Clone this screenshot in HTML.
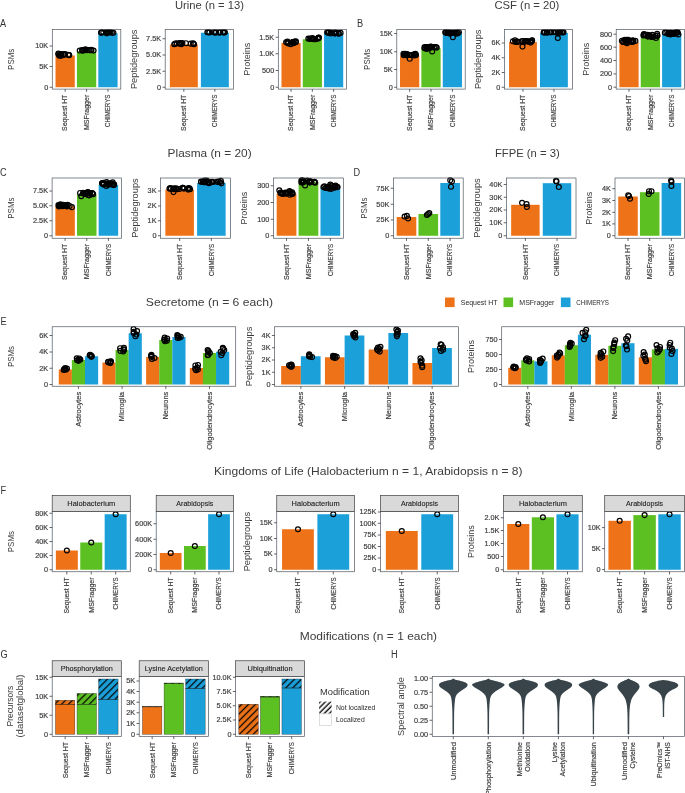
<!DOCTYPE html>
<html><head><meta charset="utf-8"><title>Figure</title>
<style>html,body{margin:0;padding:0;background:#fff}svg{display:block}text{font-family:"Liberation Sans",sans-serif}</style>
</head><body>
<svg width="685" height="793" viewBox="0 0 685 793" font-family="'Liberation Sans', sans-serif">
<rect width="685" height="793" fill="#fff"/>
<text x="209.5" y="8.5" font-size="10.4" fill="#3c3c3c" text-anchor="middle" textLength="69" lengthAdjust="spacingAndGlyphs">Urine (n = 13)</text>
<text x="526.9" y="8.5" font-size="10.4" fill="#3c3c3c" text-anchor="middle" textLength="65" lengthAdjust="spacingAndGlyphs">CSF (n = 20)</text>
<text x="209.6" y="157" font-size="10.4" fill="#3c3c3c" text-anchor="middle" textLength="84" lengthAdjust="spacingAndGlyphs">Plasma (n = 20)</text>
<text x="527.3" y="157" font-size="10.4" fill="#3c3c3c" text-anchor="middle" textLength="64.8" lengthAdjust="spacingAndGlyphs">FFPE (n = 3)</text>
<text x="209.5" y="305.7" font-size="10.4" fill="#3c3c3c" text-anchor="middle" textLength="127.3" lengthAdjust="spacingAndGlyphs">Secretome (n = 6 each)</text>
<text x="368.3" y="475" font-size="10.4" fill="#3c3c3c" text-anchor="middle" textLength="308.5" lengthAdjust="spacingAndGlyphs">Kingdoms of Life (Halobacterium n = 1, Arabidopsis n = 8)</text>
<text x="368.4" y="639.8" font-size="10.4" fill="#3c3c3c" text-anchor="middle" textLength="137.4" lengthAdjust="spacingAndGlyphs">Modifications (n = 1 each)</text>
<text x="0" y="27" font-size="10" fill="#333" text-anchor="start" textLength="6.14" lengthAdjust="spacingAndGlyphs">A</text>
<text x="357" y="27" font-size="10" fill="#333" text-anchor="start" textLength="6.14" lengthAdjust="spacingAndGlyphs">B</text>
<text x="0" y="175.75" font-size="10" fill="#333" text-anchor="start" textLength="6.64" lengthAdjust="spacingAndGlyphs">C</text>
<text x="353.5" y="175.75" font-size="10" fill="#333" text-anchor="start" textLength="6.64" lengthAdjust="spacingAndGlyphs">D</text>
<text x="0.5" y="324.5" font-size="10" fill="#333" text-anchor="start" textLength="6.14" lengthAdjust="spacingAndGlyphs">E</text>
<text x="0.5" y="493.75" font-size="10" fill="#333" text-anchor="start" textLength="5.62" lengthAdjust="spacingAndGlyphs">F</text>
<text x="0.5" y="657.5" font-size="10" fill="#333" text-anchor="start" textLength="7.16" lengthAdjust="spacingAndGlyphs">G</text>
<text x="391" y="657.6" font-size="10" fill="#333" text-anchor="start" textLength="6.64" lengthAdjust="spacingAndGlyphs">H</text>
<rect x="55.51" y="55.5" width="19.27" height="31.75" fill="#ee7318"/>
<rect x="76.92" y="51.25" width="19.27" height="36" fill="#5cbf22"/>
<rect x="98.32" y="33.25" width="19.27" height="54" fill="#1ba0da"/>
<circle cx="59.93" cy="55.19" r="2.45" fill="none" stroke="#000" stroke-width="1.2"/>
<circle cx="61.65" cy="54" r="2.45" fill="none" stroke="#000" stroke-width="1.2"/>
<circle cx="65.08" cy="54.01" r="2.45" fill="none" stroke="#000" stroke-width="1.2"/>
<circle cx="69.26" cy="54.93" r="2.45" fill="none" stroke="#000" stroke-width="1.2"/>
<circle cx="59.35" cy="55.64" r="2.45" fill="none" stroke="#000" stroke-width="1.2"/>
<circle cx="64.19" cy="54.87" r="2.45" fill="none" stroke="#000" stroke-width="1.2"/>
<circle cx="68.88" cy="55.24" r="2.45" fill="none" stroke="#000" stroke-width="1.2"/>
<circle cx="68.3" cy="54.71" r="2.45" fill="none" stroke="#000" stroke-width="1.2"/>
<circle cx="61.28" cy="55.71" r="2.45" fill="none" stroke="#000" stroke-width="1.2"/>
<circle cx="58.45" cy="54.34" r="2.45" fill="none" stroke="#000" stroke-width="1.2"/>
<circle cx="58.38" cy="53.56" r="2.45" fill="none" stroke="#000" stroke-width="1.2"/>
<circle cx="63.45" cy="54.4" r="2.45" fill="none" stroke="#000" stroke-width="1.2"/>
<circle cx="61.1" cy="54.59" r="2.45" fill="none" stroke="#000" stroke-width="1.2"/>
<circle cx="82.58" cy="50.51" r="2.45" fill="none" stroke="#000" stroke-width="1.2"/>
<circle cx="85.66" cy="50.09" r="2.45" fill="none" stroke="#000" stroke-width="1.2"/>
<circle cx="82.71" cy="50.46" r="2.45" fill="none" stroke="#000" stroke-width="1.2"/>
<circle cx="82.54" cy="50.05" r="2.45" fill="none" stroke="#000" stroke-width="1.2"/>
<circle cx="79.73" cy="50.55" r="2.45" fill="none" stroke="#000" stroke-width="1.2"/>
<circle cx="91.36" cy="49.78" r="2.45" fill="none" stroke="#000" stroke-width="1.2"/>
<circle cx="82.07" cy="50.2" r="2.45" fill="none" stroke="#000" stroke-width="1.2"/>
<circle cx="93.57" cy="50.61" r="2.45" fill="none" stroke="#000" stroke-width="1.2"/>
<circle cx="84.16" cy="50.25" r="2.45" fill="none" stroke="#000" stroke-width="1.2"/>
<circle cx="89.71" cy="50.17" r="2.45" fill="none" stroke="#000" stroke-width="1.2"/>
<circle cx="85.44" cy="49.31" r="2.45" fill="none" stroke="#000" stroke-width="1.2"/>
<circle cx="91.26" cy="50.25" r="2.45" fill="none" stroke="#000" stroke-width="1.2"/>
<circle cx="87.8" cy="50.08" r="2.45" fill="none" stroke="#000" stroke-width="1.2"/>
<circle cx="113.41" cy="32.79" r="2.45" fill="none" stroke="#000" stroke-width="1.2"/>
<circle cx="109.23" cy="32.2" r="2.45" fill="none" stroke="#000" stroke-width="1.2"/>
<circle cx="101.32" cy="32.49" r="2.45" fill="none" stroke="#000" stroke-width="1.2"/>
<circle cx="106.73" cy="33.34" r="2.45" fill="none" stroke="#000" stroke-width="1.2"/>
<circle cx="103.29" cy="32.2" r="2.45" fill="none" stroke="#000" stroke-width="1.2"/>
<circle cx="110.44" cy="32.21" r="2.45" fill="none" stroke="#000" stroke-width="1.2"/>
<circle cx="106.17" cy="32.2" r="2.45" fill="none" stroke="#000" stroke-width="1.2"/>
<circle cx="111.93" cy="32.67" r="2.45" fill="none" stroke="#000" stroke-width="1.2"/>
<circle cx="108.25" cy="32.2" r="2.45" fill="none" stroke="#000" stroke-width="1.2"/>
<circle cx="101.25" cy="32.81" r="2.45" fill="none" stroke="#000" stroke-width="1.2"/>
<circle cx="101.45" cy="32.2" r="2.45" fill="none" stroke="#000" stroke-width="1.2"/>
<circle cx="109.28" cy="32.2" r="2.45" fill="none" stroke="#000" stroke-width="1.2"/>
<circle cx="106.44" cy="32.73" r="2.45" fill="none" stroke="#000" stroke-width="1.2"/>
<rect x="52.3" y="29.6" width="68.5" height="59.5" fill="none" stroke="#4f5860" stroke-width="0.7"/>
<line x1="65.14" x2="65.14" y1="89.1" y2="91.8" stroke="#333" stroke-width="0.75"/>
<text x="67.49" y="94.7" font-size="7" fill="#404040" text-anchor="end" textLength="36.2" lengthAdjust="spacingAndGlyphs" transform="rotate(-90 67.49 94.7)" stroke="#404040" stroke-width="0.18">Sequest HT</text>
<line x1="86.55" x2="86.55" y1="89.1" y2="91.8" stroke="#333" stroke-width="0.75"/>
<text x="88.9" y="94.7" font-size="7" fill="#404040" text-anchor="end" textLength="35.3" lengthAdjust="spacingAndGlyphs" transform="rotate(-90 88.9 94.7)" stroke="#404040" stroke-width="0.18">MSFragger</text>
<line x1="107.96" x2="107.96" y1="89.1" y2="91.8" stroke="#333" stroke-width="0.75"/>
<text x="110.31" y="94.7" font-size="7" fill="#404040" text-anchor="end" textLength="32.2" lengthAdjust="spacingAndGlyphs" transform="rotate(-90 110.31 94.7)" stroke="#404040" stroke-width="0.18">CHIMERYS</text>
<line x1="49.6" x2="52.3" y1="87.25" y2="87.25" stroke="#333" stroke-width="0.75"/>
<text x="48.2" y="89.7" font-size="7" fill="#404040" text-anchor="end" textLength="4.05" lengthAdjust="spacingAndGlyphs" stroke="#404040" stroke-width="0.18">0</text>
<line x1="49.6" x2="52.3" y1="66.5" y2="66.5" stroke="#333" stroke-width="0.75"/>
<text x="48.2" y="68.95" font-size="7" fill="#404040" text-anchor="end" textLength="8.9" lengthAdjust="spacingAndGlyphs" stroke="#404040" stroke-width="0.18">5K</text>
<line x1="49.6" x2="52.3" y1="46" y2="46" stroke="#333" stroke-width="0.75"/>
<text x="48.2" y="48.45" font-size="7" fill="#404040" text-anchor="end" textLength="12.95" lengthAdjust="spacingAndGlyphs" stroke="#404040" stroke-width="0.18">10K</text>
<text x="13.55" y="59.35" font-size="9.6" fill="#3a3a3a" text-anchor="middle" textLength="21.1" lengthAdjust="spacingAndGlyphs" transform="rotate(-90 13.55 59.35)">PSMs</text>
<rect x="169.86" y="44.5" width="27.94" height="42.75" fill="#ee7318"/>
<rect x="200.9" y="32.75" width="27.94" height="54.5" fill="#1ba0da"/>
<circle cx="193.26" cy="43.86" r="2.45" fill="none" stroke="#000" stroke-width="1.2"/>
<circle cx="175.24" cy="43.65" r="2.45" fill="none" stroke="#000" stroke-width="1.2"/>
<circle cx="190.76" cy="43.63" r="2.45" fill="none" stroke="#000" stroke-width="1.2"/>
<circle cx="179.86" cy="42.96" r="2.45" fill="none" stroke="#000" stroke-width="1.2"/>
<circle cx="186.02" cy="43.18" r="2.45" fill="none" stroke="#000" stroke-width="1.2"/>
<circle cx="176.76" cy="43.29" r="2.45" fill="none" stroke="#000" stroke-width="1.2"/>
<circle cx="182.39" cy="43.07" r="2.45" fill="none" stroke="#000" stroke-width="1.2"/>
<circle cx="194.06" cy="44.2" r="2.45" fill="none" stroke="#000" stroke-width="1.2"/>
<circle cx="193.12" cy="43.18" r="2.45" fill="none" stroke="#000" stroke-width="1.2"/>
<circle cx="179.04" cy="43.55" r="2.45" fill="none" stroke="#000" stroke-width="1.2"/>
<circle cx="174.23" cy="44.25" r="2.45" fill="none" stroke="#000" stroke-width="1.2"/>
<circle cx="180.07" cy="43.8" r="2.45" fill="none" stroke="#000" stroke-width="1.2"/>
<circle cx="181.35" cy="44.17" r="2.45" fill="none" stroke="#000" stroke-width="1.2"/>
<circle cx="216.12" cy="32.2" r="2.45" fill="none" stroke="#000" stroke-width="1.2"/>
<circle cx="209.42" cy="32.39" r="2.45" fill="none" stroke="#000" stroke-width="1.2"/>
<circle cx="207.36" cy="32.2" r="2.45" fill="none" stroke="#000" stroke-width="1.2"/>
<circle cx="215.08" cy="32.7" r="2.45" fill="none" stroke="#000" stroke-width="1.2"/>
<circle cx="208.29" cy="32.2" r="2.45" fill="none" stroke="#000" stroke-width="1.2"/>
<circle cx="223.01" cy="32.2" r="2.45" fill="none" stroke="#000" stroke-width="1.2"/>
<circle cx="223.28" cy="32.2" r="2.45" fill="none" stroke="#000" stroke-width="1.2"/>
<circle cx="220.31" cy="32.2" r="2.45" fill="none" stroke="#000" stroke-width="1.2"/>
<circle cx="224.82" cy="32.2" r="2.45" fill="none" stroke="#000" stroke-width="1.2"/>
<circle cx="224.42" cy="32.39" r="2.45" fill="none" stroke="#000" stroke-width="1.2"/>
<circle cx="219.32" cy="32.66" r="2.45" fill="none" stroke="#000" stroke-width="1.2"/>
<circle cx="214.07" cy="32.2" r="2.45" fill="none" stroke="#000" stroke-width="1.2"/>
<circle cx="223.66" cy="32.2" r="2.45" fill="none" stroke="#000" stroke-width="1.2"/>
<rect x="165.2" y="29.6" width="68.3" height="59.5" fill="none" stroke="#4f5860" stroke-width="0.7"/>
<line x1="183.83" x2="183.83" y1="89.1" y2="91.8" stroke="#333" stroke-width="0.75"/>
<text x="186.18" y="94.7" font-size="7" fill="#404040" text-anchor="end" textLength="36.2" lengthAdjust="spacingAndGlyphs" transform="rotate(-90 186.18 94.7)" stroke="#404040" stroke-width="0.18">Sequest HT</text>
<line x1="214.87" x2="214.87" y1="89.1" y2="91.8" stroke="#333" stroke-width="0.75"/>
<text x="217.22" y="94.7" font-size="7" fill="#404040" text-anchor="end" textLength="32.2" lengthAdjust="spacingAndGlyphs" transform="rotate(-90 217.22 94.7)" stroke="#404040" stroke-width="0.18">CHIMERYS</text>
<line x1="162.5" x2="165.2" y1="87.25" y2="87.25" stroke="#333" stroke-width="0.75"/>
<text x="161.1" y="89.7" font-size="7" fill="#404040" text-anchor="end" textLength="4.05" lengthAdjust="spacingAndGlyphs" stroke="#404040" stroke-width="0.18">0</text>
<line x1="162.5" x2="165.2" y1="71.25" y2="71.25" stroke="#333" stroke-width="0.75"/>
<text x="161.1" y="73.7" font-size="7" fill="#404040" text-anchor="end" textLength="14.98" lengthAdjust="spacingAndGlyphs" stroke="#404040" stroke-width="0.18">2.5K</text>
<line x1="162.5" x2="165.2" y1="55" y2="55" stroke="#333" stroke-width="0.75"/>
<text x="161.1" y="57.45" font-size="7" fill="#404040" text-anchor="end" textLength="14.98" lengthAdjust="spacingAndGlyphs" stroke="#404040" stroke-width="0.18">5.0K</text>
<line x1="162.5" x2="165.2" y1="38.75" y2="38.75" stroke="#333" stroke-width="0.75"/>
<text x="161.1" y="41.2" font-size="7" fill="#404040" text-anchor="end" textLength="14.98" lengthAdjust="spacingAndGlyphs" stroke="#404040" stroke-width="0.18">7.5K</text>
<text x="136.8" y="59.35" font-size="9.6" fill="#3a3a3a" text-anchor="middle" textLength="59.5" lengthAdjust="spacingAndGlyphs" transform="rotate(-90 136.8 59.35)">Peptidegroups</text>
<rect x="281.49" y="43" width="19.15" height="44.25" fill="#ee7318"/>
<rect x="302.77" y="39.25" width="19.15" height="48" fill="#5cbf22"/>
<rect x="324.05" y="33.25" width="19.15" height="54" fill="#1ba0da"/>
<circle cx="287.35" cy="41.65" r="2.45" fill="none" stroke="#000" stroke-width="1.2"/>
<circle cx="292.54" cy="42.04" r="2.45" fill="none" stroke="#000" stroke-width="1.2"/>
<circle cx="292.85" cy="42.29" r="2.45" fill="none" stroke="#000" stroke-width="1.2"/>
<circle cx="295.85" cy="42.24" r="2.45" fill="none" stroke="#000" stroke-width="1.2"/>
<circle cx="287.66" cy="42.39" r="2.45" fill="none" stroke="#000" stroke-width="1.2"/>
<circle cx="290.65" cy="44.17" r="2.45" fill="none" stroke="#000" stroke-width="1.2"/>
<circle cx="295.84" cy="41.35" r="2.45" fill="none" stroke="#000" stroke-width="1.2"/>
<circle cx="286.12" cy="42.33" r="2.45" fill="none" stroke="#000" stroke-width="1.2"/>
<circle cx="292.98" cy="42.69" r="2.45" fill="none" stroke="#000" stroke-width="1.2"/>
<circle cx="294.49" cy="41.66" r="2.45" fill="none" stroke="#000" stroke-width="1.2"/>
<circle cx="293.5" cy="43.13" r="2.45" fill="none" stroke="#000" stroke-width="1.2"/>
<circle cx="292.36" cy="42.6" r="2.45" fill="none" stroke="#000" stroke-width="1.2"/>
<circle cx="288.25" cy="43.38" r="2.45" fill="none" stroke="#000" stroke-width="1.2"/>
<circle cx="311.96" cy="38.68" r="2.45" fill="none" stroke="#000" stroke-width="1.2"/>
<circle cx="315.45" cy="39.14" r="2.45" fill="none" stroke="#000" stroke-width="1.2"/>
<circle cx="318.32" cy="37.79" r="2.45" fill="none" stroke="#000" stroke-width="1.2"/>
<circle cx="310.86" cy="38.65" r="2.45" fill="none" stroke="#000" stroke-width="1.2"/>
<circle cx="318.52" cy="37.83" r="2.45" fill="none" stroke="#000" stroke-width="1.2"/>
<circle cx="317.72" cy="38.72" r="2.45" fill="none" stroke="#000" stroke-width="1.2"/>
<circle cx="308.34" cy="38.64" r="2.45" fill="none" stroke="#000" stroke-width="1.2"/>
<circle cx="318.95" cy="37.67" r="2.45" fill="none" stroke="#000" stroke-width="1.2"/>
<circle cx="309.53" cy="38.78" r="2.45" fill="none" stroke="#000" stroke-width="1.2"/>
<circle cx="312.45" cy="38.03" r="2.45" fill="none" stroke="#000" stroke-width="1.2"/>
<circle cx="313.56" cy="38.82" r="2.45" fill="none" stroke="#000" stroke-width="1.2"/>
<circle cx="313.54" cy="39.2" r="2.45" fill="none" stroke="#000" stroke-width="1.2"/>
<circle cx="318.43" cy="37.94" r="2.45" fill="none" stroke="#000" stroke-width="1.2"/>
<circle cx="338.68" cy="33.34" r="2.45" fill="none" stroke="#000" stroke-width="1.2"/>
<circle cx="328.86" cy="32.4" r="2.45" fill="none" stroke="#000" stroke-width="1.2"/>
<circle cx="338.74" cy="33.72" r="2.45" fill="none" stroke="#000" stroke-width="1.2"/>
<circle cx="334.61" cy="32.2" r="2.45" fill="none" stroke="#000" stroke-width="1.2"/>
<circle cx="336.66" cy="32.72" r="2.45" fill="none" stroke="#000" stroke-width="1.2"/>
<circle cx="334.67" cy="33.55" r="2.45" fill="none" stroke="#000" stroke-width="1.2"/>
<circle cx="330.58" cy="33.53" r="2.45" fill="none" stroke="#000" stroke-width="1.2"/>
<circle cx="340.57" cy="32.91" r="2.45" fill="none" stroke="#000" stroke-width="1.2"/>
<circle cx="327.8" cy="32.64" r="2.45" fill="none" stroke="#000" stroke-width="1.2"/>
<circle cx="328.68" cy="32.2" r="2.45" fill="none" stroke="#000" stroke-width="1.2"/>
<circle cx="330.71" cy="32.59" r="2.45" fill="none" stroke="#000" stroke-width="1.2"/>
<circle cx="327.17" cy="32.2" r="2.45" fill="none" stroke="#000" stroke-width="1.2"/>
<circle cx="335.25" cy="33.37" r="2.45" fill="none" stroke="#000" stroke-width="1.2"/>
<rect x="278.3" y="29.6" width="68.1" height="59.5" fill="none" stroke="#4f5860" stroke-width="0.7"/>
<line x1="291.07" x2="291.07" y1="89.1" y2="91.8" stroke="#333" stroke-width="0.75"/>
<text x="293.42" y="94.7" font-size="7" fill="#404040" text-anchor="end" textLength="36.2" lengthAdjust="spacingAndGlyphs" transform="rotate(-90 293.42 94.7)" stroke="#404040" stroke-width="0.18">Sequest HT</text>
<line x1="312.35" x2="312.35" y1="89.1" y2="91.8" stroke="#333" stroke-width="0.75"/>
<text x="314.7" y="94.7" font-size="7" fill="#404040" text-anchor="end" textLength="35.3" lengthAdjust="spacingAndGlyphs" transform="rotate(-90 314.7 94.7)" stroke="#404040" stroke-width="0.18">MSFragger</text>
<line x1="333.63" x2="333.63" y1="89.1" y2="91.8" stroke="#333" stroke-width="0.75"/>
<text x="335.98" y="94.7" font-size="7" fill="#404040" text-anchor="end" textLength="32.2" lengthAdjust="spacingAndGlyphs" transform="rotate(-90 335.98 94.7)" stroke="#404040" stroke-width="0.18">CHIMERYS</text>
<line x1="275.6" x2="278.3" y1="87.25" y2="87.25" stroke="#333" stroke-width="0.75"/>
<text x="274.2" y="89.7" font-size="7" fill="#404040" text-anchor="end" textLength="4.05" lengthAdjust="spacingAndGlyphs" stroke="#404040" stroke-width="0.18">0</text>
<line x1="275.6" x2="278.3" y1="70.5" y2="70.5" stroke="#333" stroke-width="0.75"/>
<text x="274.2" y="72.95" font-size="7" fill="#404040" text-anchor="end" textLength="12.15" lengthAdjust="spacingAndGlyphs" stroke="#404040" stroke-width="0.18">500</text>
<line x1="275.6" x2="278.3" y1="53.75" y2="53.75" stroke="#333" stroke-width="0.75"/>
<text x="274.2" y="56.2" font-size="7" fill="#404040" text-anchor="end" textLength="14.98" lengthAdjust="spacingAndGlyphs" stroke="#404040" stroke-width="0.18">1.0K</text>
<line x1="275.6" x2="278.3" y1="37.25" y2="37.25" stroke="#333" stroke-width="0.75"/>
<text x="274.2" y="39.7" font-size="7" fill="#404040" text-anchor="end" textLength="14.98" lengthAdjust="spacingAndGlyphs" stroke="#404040" stroke-width="0.18">1.5K</text>
<text x="250.05" y="59.35" font-size="9.6" fill="#3a3a3a" text-anchor="middle" textLength="33" lengthAdjust="spacingAndGlyphs" transform="rotate(-90 250.05 59.35)">Proteins</text>
<rect x="400.01" y="55.5" width="19.24" height="31.75" fill="#ee7318"/>
<rect x="421.38" y="48.25" width="19.24" height="39" fill="#5cbf22"/>
<rect x="442.76" y="33.25" width="19.24" height="54" fill="#1ba0da"/>
<circle cx="405.87" cy="55.1" r="2.45" fill="none" stroke="#000" stroke-width="1.2"/>
<circle cx="404.71" cy="55" r="2.45" fill="none" stroke="#000" stroke-width="1.2"/>
<circle cx="403.45" cy="53.79" r="2.45" fill="none" stroke="#000" stroke-width="1.2"/>
<circle cx="413.9" cy="55.35" r="2.45" fill="none" stroke="#000" stroke-width="1.2"/>
<circle cx="413.4" cy="54.81" r="2.45" fill="none" stroke="#000" stroke-width="1.2"/>
<circle cx="406.45" cy="55.31" r="2.45" fill="none" stroke="#000" stroke-width="1.2"/>
<circle cx="404.97" cy="54.97" r="2.45" fill="none" stroke="#000" stroke-width="1.2"/>
<circle cx="415.71" cy="54.91" r="2.45" fill="none" stroke="#000" stroke-width="1.2"/>
<circle cx="414.31" cy="55.01" r="2.45" fill="none" stroke="#000" stroke-width="1.2"/>
<circle cx="405.26" cy="53.86" r="2.45" fill="none" stroke="#000" stroke-width="1.2"/>
<circle cx="406.92" cy="54.13" r="2.45" fill="none" stroke="#000" stroke-width="1.2"/>
<circle cx="414.67" cy="54.12" r="2.45" fill="none" stroke="#000" stroke-width="1.2"/>
<circle cx="415.04" cy="55.28" r="2.45" fill="none" stroke="#000" stroke-width="1.2"/>
<circle cx="412.07" cy="55.05" r="2.45" fill="none" stroke="#000" stroke-width="1.2"/>
<circle cx="409.71" cy="54.95" r="2.45" fill="none" stroke="#000" stroke-width="1.2"/>
<circle cx="403.78" cy="55.21" r="2.45" fill="none" stroke="#000" stroke-width="1.2"/>
<circle cx="415.81" cy="55.12" r="2.45" fill="none" stroke="#000" stroke-width="1.2"/>
<circle cx="406.78" cy="54.23" r="2.45" fill="none" stroke="#000" stroke-width="1.2"/>
<circle cx="415.45" cy="53.77" r="2.45" fill="none" stroke="#000" stroke-width="1.2"/>
<circle cx="409.73" cy="58.8" r="2.45" fill="none" stroke="#000" stroke-width="1.2"/>
<circle cx="435.95" cy="47" r="2.45" fill="none" stroke="#000" stroke-width="1.2"/>
<circle cx="431.12" cy="46.87" r="2.45" fill="none" stroke="#000" stroke-width="1.2"/>
<circle cx="430.02" cy="47.8" r="2.45" fill="none" stroke="#000" stroke-width="1.2"/>
<circle cx="426.18" cy="47.14" r="2.45" fill="none" stroke="#000" stroke-width="1.2"/>
<circle cx="424.5" cy="48.31" r="2.45" fill="none" stroke="#000" stroke-width="1.2"/>
<circle cx="424.54" cy="47.17" r="2.45" fill="none" stroke="#000" stroke-width="1.2"/>
<circle cx="431.49" cy="47.16" r="2.45" fill="none" stroke="#000" stroke-width="1.2"/>
<circle cx="430.59" cy="46.5" r="2.45" fill="none" stroke="#000" stroke-width="1.2"/>
<circle cx="426.67" cy="48.88" r="2.45" fill="none" stroke="#000" stroke-width="1.2"/>
<circle cx="429.76" cy="47.66" r="2.45" fill="none" stroke="#000" stroke-width="1.2"/>
<circle cx="427.82" cy="48.13" r="2.45" fill="none" stroke="#000" stroke-width="1.2"/>
<circle cx="428.95" cy="47.44" r="2.45" fill="none" stroke="#000" stroke-width="1.2"/>
<circle cx="431.83" cy="47.01" r="2.45" fill="none" stroke="#000" stroke-width="1.2"/>
<circle cx="436.76" cy="47.59" r="2.45" fill="none" stroke="#000" stroke-width="1.2"/>
<circle cx="427.14" cy="47.56" r="2.45" fill="none" stroke="#000" stroke-width="1.2"/>
<circle cx="434.77" cy="47.17" r="2.45" fill="none" stroke="#000" stroke-width="1.2"/>
<circle cx="428.6" cy="47.21" r="2.45" fill="none" stroke="#000" stroke-width="1.2"/>
<circle cx="426.41" cy="47.31" r="2.45" fill="none" stroke="#000" stroke-width="1.2"/>
<circle cx="433.81" cy="47.49" r="2.45" fill="none" stroke="#000" stroke-width="1.2"/>
<circle cx="432.2" cy="51.45" r="2.45" fill="none" stroke="#000" stroke-width="1.2"/>
<circle cx="458.01" cy="33.23" r="2.45" fill="none" stroke="#000" stroke-width="1.2"/>
<circle cx="458.92" cy="32.22" r="2.45" fill="none" stroke="#000" stroke-width="1.2"/>
<circle cx="445.52" cy="32.2" r="2.45" fill="none" stroke="#000" stroke-width="1.2"/>
<circle cx="456.29" cy="33.71" r="2.45" fill="none" stroke="#000" stroke-width="1.2"/>
<circle cx="451.1" cy="33.1" r="2.45" fill="none" stroke="#000" stroke-width="1.2"/>
<circle cx="456.9" cy="32.21" r="2.45" fill="none" stroke="#000" stroke-width="1.2"/>
<circle cx="449.43" cy="32.64" r="2.45" fill="none" stroke="#000" stroke-width="1.2"/>
<circle cx="447.2" cy="32.96" r="2.45" fill="none" stroke="#000" stroke-width="1.2"/>
<circle cx="450.69" cy="32.89" r="2.45" fill="none" stroke="#000" stroke-width="1.2"/>
<circle cx="445.39" cy="32.34" r="2.45" fill="none" stroke="#000" stroke-width="1.2"/>
<circle cx="445.89" cy="32.87" r="2.45" fill="none" stroke="#000" stroke-width="1.2"/>
<circle cx="450.42" cy="33.22" r="2.45" fill="none" stroke="#000" stroke-width="1.2"/>
<circle cx="449.39" cy="33.61" r="2.45" fill="none" stroke="#000" stroke-width="1.2"/>
<circle cx="451.29" cy="33.26" r="2.45" fill="none" stroke="#000" stroke-width="1.2"/>
<circle cx="448.22" cy="32.61" r="2.45" fill="none" stroke="#000" stroke-width="1.2"/>
<circle cx="447.66" cy="32.51" r="2.45" fill="none" stroke="#000" stroke-width="1.2"/>
<circle cx="454.89" cy="32.54" r="2.45" fill="none" stroke="#000" stroke-width="1.2"/>
<circle cx="452.24" cy="32.57" r="2.45" fill="none" stroke="#000" stroke-width="1.2"/>
<circle cx="448.8" cy="32.71" r="2.45" fill="none" stroke="#000" stroke-width="1.2"/>
<circle cx="452.88" cy="37.15" r="2.45" fill="none" stroke="#000" stroke-width="1.2"/>
<rect x="396.8" y="29.6" width="68.4" height="59.5" fill="none" stroke="#4f5860" stroke-width="0.7"/>
<line x1="409.62" x2="409.62" y1="89.1" y2="91.8" stroke="#333" stroke-width="0.75"/>
<text x="411.98" y="94.7" font-size="7" fill="#404040" text-anchor="end" textLength="36.2" lengthAdjust="spacingAndGlyphs" transform="rotate(-90 411.98 94.7)" stroke="#404040" stroke-width="0.18">Sequest HT</text>
<line x1="431" x2="431" y1="89.1" y2="91.8" stroke="#333" stroke-width="0.75"/>
<text x="433.35" y="94.7" font-size="7" fill="#404040" text-anchor="end" textLength="35.3" lengthAdjust="spacingAndGlyphs" transform="rotate(-90 433.35 94.7)" stroke="#404040" stroke-width="0.18">MSFragger</text>
<line x1="452.38" x2="452.38" y1="89.1" y2="91.8" stroke="#333" stroke-width="0.75"/>
<text x="454.73" y="94.7" font-size="7" fill="#404040" text-anchor="end" textLength="32.2" lengthAdjust="spacingAndGlyphs" transform="rotate(-90 454.73 94.7)" stroke="#404040" stroke-width="0.18">CHIMERYS</text>
<line x1="394.1" x2="396.8" y1="87.25" y2="87.25" stroke="#333" stroke-width="0.75"/>
<text x="392.7" y="89.7" font-size="7" fill="#404040" text-anchor="end" textLength="4.05" lengthAdjust="spacingAndGlyphs" stroke="#404040" stroke-width="0.18">0</text>
<line x1="394.1" x2="396.8" y1="69.5" y2="69.5" stroke="#333" stroke-width="0.75"/>
<text x="392.7" y="71.95" font-size="7" fill="#404040" text-anchor="end" textLength="8.9" lengthAdjust="spacingAndGlyphs" stroke="#404040" stroke-width="0.18">5K</text>
<line x1="394.1" x2="396.8" y1="51.75" y2="51.75" stroke="#333" stroke-width="0.75"/>
<text x="392.7" y="54.2" font-size="7" fill="#404040" text-anchor="end" textLength="12.95" lengthAdjust="spacingAndGlyphs" stroke="#404040" stroke-width="0.18">10K</text>
<line x1="394.1" x2="396.8" y1="33.5" y2="33.5" stroke="#333" stroke-width="0.75"/>
<text x="392.7" y="35.95" font-size="7" fill="#404040" text-anchor="end" textLength="12.95" lengthAdjust="spacingAndGlyphs" stroke="#404040" stroke-width="0.18">15K</text>
<text x="370.05" y="59.35" font-size="9.6" fill="#3a3a3a" text-anchor="middle" textLength="21.1" lengthAdjust="spacingAndGlyphs" transform="rotate(-90 370.05 59.35)">PSMs</text>
<rect x="509.04" y="42" width="27.86" height="45.25" fill="#ee7318"/>
<rect x="540" y="32.9" width="27.86" height="54.35" fill="#1ba0da"/>
<circle cx="525.51" cy="41.15" r="2.45" fill="none" stroke="#000" stroke-width="1.2"/>
<circle cx="532.09" cy="40.31" r="2.45" fill="none" stroke="#000" stroke-width="1.2"/>
<circle cx="527.92" cy="41.31" r="2.45" fill="none" stroke="#000" stroke-width="1.2"/>
<circle cx="522.26" cy="41.14" r="2.45" fill="none" stroke="#000" stroke-width="1.2"/>
<circle cx="532.11" cy="40.56" r="2.45" fill="none" stroke="#000" stroke-width="1.2"/>
<circle cx="515" cy="40.33" r="2.45" fill="none" stroke="#000" stroke-width="1.2"/>
<circle cx="522.34" cy="41.21" r="2.45" fill="none" stroke="#000" stroke-width="1.2"/>
<circle cx="524.5" cy="41.83" r="2.45" fill="none" stroke="#000" stroke-width="1.2"/>
<circle cx="512.94" cy="41.28" r="2.45" fill="none" stroke="#000" stroke-width="1.2"/>
<circle cx="531.56" cy="41.6" r="2.45" fill="none" stroke="#000" stroke-width="1.2"/>
<circle cx="528.45" cy="41.68" r="2.45" fill="none" stroke="#000" stroke-width="1.2"/>
<circle cx="515.53" cy="41.95" r="2.45" fill="none" stroke="#000" stroke-width="1.2"/>
<circle cx="525.39" cy="41.22" r="2.45" fill="none" stroke="#000" stroke-width="1.2"/>
<circle cx="530.63" cy="41.22" r="2.45" fill="none" stroke="#000" stroke-width="1.2"/>
<circle cx="516.98" cy="41.51" r="2.45" fill="none" stroke="#000" stroke-width="1.2"/>
<circle cx="530.65" cy="42.59" r="2.45" fill="none" stroke="#000" stroke-width="1.2"/>
<circle cx="518.63" cy="41.8" r="2.45" fill="none" stroke="#000" stroke-width="1.2"/>
<circle cx="526.64" cy="41.05" r="2.45" fill="none" stroke="#000" stroke-width="1.2"/>
<circle cx="516.89" cy="41.91" r="2.45" fill="none" stroke="#000" stroke-width="1.2"/>
<circle cx="522.47" cy="46.6" r="2.45" fill="none" stroke="#000" stroke-width="1.2"/>
<circle cx="563.55" cy="32.2" r="2.45" fill="none" stroke="#000" stroke-width="1.2"/>
<circle cx="562.04" cy="32.2" r="2.45" fill="none" stroke="#000" stroke-width="1.2"/>
<circle cx="547.04" cy="32.55" r="2.45" fill="none" stroke="#000" stroke-width="1.2"/>
<circle cx="546.62" cy="32.49" r="2.45" fill="none" stroke="#000" stroke-width="1.2"/>
<circle cx="556.05" cy="32.27" r="2.45" fill="none" stroke="#000" stroke-width="1.2"/>
<circle cx="543.69" cy="32.2" r="2.45" fill="none" stroke="#000" stroke-width="1.2"/>
<circle cx="550.01" cy="32.2" r="2.45" fill="none" stroke="#000" stroke-width="1.2"/>
<circle cx="560.49" cy="32.2" r="2.45" fill="none" stroke="#000" stroke-width="1.2"/>
<circle cx="553.54" cy="32.2" r="2.45" fill="none" stroke="#000" stroke-width="1.2"/>
<circle cx="558.15" cy="33.37" r="2.45" fill="none" stroke="#000" stroke-width="1.2"/>
<circle cx="544.09" cy="32.58" r="2.45" fill="none" stroke="#000" stroke-width="1.2"/>
<circle cx="559.08" cy="32.2" r="2.45" fill="none" stroke="#000" stroke-width="1.2"/>
<circle cx="559.86" cy="32.2" r="2.45" fill="none" stroke="#000" stroke-width="1.2"/>
<circle cx="551.17" cy="32.2" r="2.45" fill="none" stroke="#000" stroke-width="1.2"/>
<circle cx="544.58" cy="32.2" r="2.45" fill="none" stroke="#000" stroke-width="1.2"/>
<circle cx="547.35" cy="32.42" r="2.45" fill="none" stroke="#000" stroke-width="1.2"/>
<circle cx="559.2" cy="32.2" r="2.45" fill="none" stroke="#000" stroke-width="1.2"/>
<circle cx="562.78" cy="32.53" r="2.45" fill="none" stroke="#000" stroke-width="1.2"/>
<circle cx="550.93" cy="32.2" r="2.45" fill="none" stroke="#000" stroke-width="1.2"/>
<circle cx="557.83" cy="38" r="2.45" fill="none" stroke="#000" stroke-width="1.2"/>
<rect x="504.4" y="29.6" width="68.1" height="59.5" fill="none" stroke="#4f5860" stroke-width="0.7"/>
<line x1="522.97" x2="522.97" y1="89.1" y2="91.8" stroke="#333" stroke-width="0.75"/>
<text x="525.32" y="94.7" font-size="7" fill="#404040" text-anchor="end" textLength="36.2" lengthAdjust="spacingAndGlyphs" transform="rotate(-90 525.32 94.7)" stroke="#404040" stroke-width="0.18">Sequest HT</text>
<line x1="553.93" x2="553.93" y1="89.1" y2="91.8" stroke="#333" stroke-width="0.75"/>
<text x="556.28" y="94.7" font-size="7" fill="#404040" text-anchor="end" textLength="32.2" lengthAdjust="spacingAndGlyphs" transform="rotate(-90 556.28 94.7)" stroke="#404040" stroke-width="0.18">CHIMERYS</text>
<line x1="501.7" x2="504.4" y1="87.25" y2="87.25" stroke="#333" stroke-width="0.75"/>
<text x="500.3" y="89.7" font-size="7" fill="#404040" text-anchor="end" textLength="4.05" lengthAdjust="spacingAndGlyphs" stroke="#404040" stroke-width="0.18">0</text>
<line x1="501.7" x2="504.4" y1="72.5" y2="72.5" stroke="#333" stroke-width="0.75"/>
<text x="500.3" y="74.95" font-size="7" fill="#404040" text-anchor="end" textLength="8.9" lengthAdjust="spacingAndGlyphs" stroke="#404040" stroke-width="0.18">2K</text>
<line x1="501.7" x2="504.4" y1="57.75" y2="57.75" stroke="#333" stroke-width="0.75"/>
<text x="500.3" y="60.2" font-size="7" fill="#404040" text-anchor="end" textLength="8.9" lengthAdjust="spacingAndGlyphs" stroke="#404040" stroke-width="0.18">4K</text>
<line x1="501.7" x2="504.4" y1="43" y2="43" stroke="#333" stroke-width="0.75"/>
<text x="500.3" y="45.45" font-size="7" fill="#404040" text-anchor="end" textLength="8.9" lengthAdjust="spacingAndGlyphs" stroke="#404040" stroke-width="0.18">6K</text>
<text x="481.3" y="59.35" font-size="9.6" fill="#3a3a3a" text-anchor="middle" textLength="59.5" lengthAdjust="spacingAndGlyphs" transform="rotate(-90 481.3 59.35)">Peptidegroups</text>
<rect x="619.4" y="42.2" width="19.21" height="45.05" fill="#ee7318"/>
<rect x="640.75" y="36.2" width="19.21" height="51.05" fill="#5cbf22"/>
<rect x="662.09" y="34" width="19.21" height="53.25" fill="#1ba0da"/>
<circle cx="633.18" cy="41.85" r="2.45" fill="none" stroke="#000" stroke-width="1.2"/>
<circle cx="625.62" cy="40.47" r="2.45" fill="none" stroke="#000" stroke-width="1.2"/>
<circle cx="621.91" cy="40.87" r="2.45" fill="none" stroke="#000" stroke-width="1.2"/>
<circle cx="632.7" cy="40.53" r="2.45" fill="none" stroke="#000" stroke-width="1.2"/>
<circle cx="627.2" cy="41.49" r="2.45" fill="none" stroke="#000" stroke-width="1.2"/>
<circle cx="633.3" cy="40.69" r="2.45" fill="none" stroke="#000" stroke-width="1.2"/>
<circle cx="632.27" cy="40.44" r="2.45" fill="none" stroke="#000" stroke-width="1.2"/>
<circle cx="631.59" cy="41.98" r="2.45" fill="none" stroke="#000" stroke-width="1.2"/>
<circle cx="624.64" cy="39.86" r="2.45" fill="none" stroke="#000" stroke-width="1.2"/>
<circle cx="625.67" cy="40.86" r="2.45" fill="none" stroke="#000" stroke-width="1.2"/>
<circle cx="633.32" cy="40.72" r="2.45" fill="none" stroke="#000" stroke-width="1.2"/>
<circle cx="626.67" cy="39.8" r="2.45" fill="none" stroke="#000" stroke-width="1.2"/>
<circle cx="623.22" cy="41.91" r="2.45" fill="none" stroke="#000" stroke-width="1.2"/>
<circle cx="628.23" cy="39.85" r="2.45" fill="none" stroke="#000" stroke-width="1.2"/>
<circle cx="623.23" cy="41.82" r="2.45" fill="none" stroke="#000" stroke-width="1.2"/>
<circle cx="626.04" cy="42.61" r="2.45" fill="none" stroke="#000" stroke-width="1.2"/>
<circle cx="635.42" cy="40.89" r="2.45" fill="none" stroke="#000" stroke-width="1.2"/>
<circle cx="631.22" cy="41.08" r="2.45" fill="none" stroke="#000" stroke-width="1.2"/>
<circle cx="627.02" cy="43.2" r="2.45" fill="none" stroke="#000" stroke-width="1.2"/>
<circle cx="629.21" cy="40.59" r="2.45" fill="none" stroke="#000" stroke-width="1.2"/>
<circle cx="652.41" cy="34.88" r="2.45" fill="none" stroke="#000" stroke-width="1.2"/>
<circle cx="657.12" cy="33.86" r="2.45" fill="none" stroke="#000" stroke-width="1.2"/>
<circle cx="643.65" cy="34.61" r="2.45" fill="none" stroke="#000" stroke-width="1.2"/>
<circle cx="647.57" cy="36.33" r="2.45" fill="none" stroke="#000" stroke-width="1.2"/>
<circle cx="651.62" cy="36.97" r="2.45" fill="none" stroke="#000" stroke-width="1.2"/>
<circle cx="650.71" cy="36.39" r="2.45" fill="none" stroke="#000" stroke-width="1.2"/>
<circle cx="644.9" cy="34.99" r="2.45" fill="none" stroke="#000" stroke-width="1.2"/>
<circle cx="646.03" cy="34.74" r="2.45" fill="none" stroke="#000" stroke-width="1.2"/>
<circle cx="650.12" cy="35.8" r="2.45" fill="none" stroke="#000" stroke-width="1.2"/>
<circle cx="655.55" cy="35.87" r="2.45" fill="none" stroke="#000" stroke-width="1.2"/>
<circle cx="653.17" cy="36.96" r="2.45" fill="none" stroke="#000" stroke-width="1.2"/>
<circle cx="643.49" cy="35.52" r="2.45" fill="none" stroke="#000" stroke-width="1.2"/>
<circle cx="647.97" cy="36.43" r="2.45" fill="none" stroke="#000" stroke-width="1.2"/>
<circle cx="647.59" cy="34.69" r="2.45" fill="none" stroke="#000" stroke-width="1.2"/>
<circle cx="648.61" cy="35.04" r="2.45" fill="none" stroke="#000" stroke-width="1.2"/>
<circle cx="657.46" cy="35.7" r="2.45" fill="none" stroke="#000" stroke-width="1.2"/>
<circle cx="644.01" cy="34.08" r="2.45" fill="none" stroke="#000" stroke-width="1.2"/>
<circle cx="648.9" cy="36.09" r="2.45" fill="none" stroke="#000" stroke-width="1.2"/>
<circle cx="657.19" cy="35.47" r="2.45" fill="none" stroke="#000" stroke-width="1.2"/>
<circle cx="655.93" cy="37.9" r="2.45" fill="none" stroke="#000" stroke-width="1.2"/>
<circle cx="674.11" cy="33.95" r="2.45" fill="none" stroke="#000" stroke-width="1.2"/>
<circle cx="676.4" cy="32.57" r="2.45" fill="none" stroke="#000" stroke-width="1.2"/>
<circle cx="675.9" cy="32.2" r="2.45" fill="none" stroke="#000" stroke-width="1.2"/>
<circle cx="674.62" cy="33.09" r="2.45" fill="none" stroke="#000" stroke-width="1.2"/>
<circle cx="670.4" cy="34.48" r="2.45" fill="none" stroke="#000" stroke-width="1.2"/>
<circle cx="668.36" cy="33.97" r="2.45" fill="none" stroke="#000" stroke-width="1.2"/>
<circle cx="671.52" cy="33.32" r="2.45" fill="none" stroke="#000" stroke-width="1.2"/>
<circle cx="664.9" cy="32.66" r="2.45" fill="none" stroke="#000" stroke-width="1.2"/>
<circle cx="666.34" cy="32.48" r="2.45" fill="none" stroke="#000" stroke-width="1.2"/>
<circle cx="668.23" cy="32.75" r="2.45" fill="none" stroke="#000" stroke-width="1.2"/>
<circle cx="671" cy="33.82" r="2.45" fill="none" stroke="#000" stroke-width="1.2"/>
<circle cx="670.42" cy="32.9" r="2.45" fill="none" stroke="#000" stroke-width="1.2"/>
<circle cx="677.09" cy="32.66" r="2.45" fill="none" stroke="#000" stroke-width="1.2"/>
<circle cx="671.33" cy="32.74" r="2.45" fill="none" stroke="#000" stroke-width="1.2"/>
<circle cx="671.39" cy="33.75" r="2.45" fill="none" stroke="#000" stroke-width="1.2"/>
<circle cx="668.93" cy="33.88" r="2.45" fill="none" stroke="#000" stroke-width="1.2"/>
<circle cx="676.03" cy="32.61" r="2.45" fill="none" stroke="#000" stroke-width="1.2"/>
<circle cx="678.39" cy="34.38" r="2.45" fill="none" stroke="#000" stroke-width="1.2"/>
<circle cx="677.71" cy="32.33" r="2.45" fill="none" stroke="#000" stroke-width="1.2"/>
<circle cx="669.14" cy="34.06" r="2.45" fill="none" stroke="#000" stroke-width="1.2"/>
<rect x="616.2" y="29.6" width="68.3" height="59.5" fill="none" stroke="#4f5860" stroke-width="0.7"/>
<line x1="629.01" x2="629.01" y1="89.1" y2="91.8" stroke="#333" stroke-width="0.75"/>
<text x="631.36" y="94.7" font-size="7" fill="#404040" text-anchor="end" textLength="36.2" lengthAdjust="spacingAndGlyphs" transform="rotate(-90 631.36 94.7)" stroke="#404040" stroke-width="0.18">Sequest HT</text>
<line x1="650.35" x2="650.35" y1="89.1" y2="91.8" stroke="#333" stroke-width="0.75"/>
<text x="652.7" y="94.7" font-size="7" fill="#404040" text-anchor="end" textLength="35.3" lengthAdjust="spacingAndGlyphs" transform="rotate(-90 652.7 94.7)" stroke="#404040" stroke-width="0.18">MSFragger</text>
<line x1="671.69" x2="671.69" y1="89.1" y2="91.8" stroke="#333" stroke-width="0.75"/>
<text x="674.04" y="94.7" font-size="7" fill="#404040" text-anchor="end" textLength="32.2" lengthAdjust="spacingAndGlyphs" transform="rotate(-90 674.04 94.7)" stroke="#404040" stroke-width="0.18">CHIMERYS</text>
<line x1="613.5" x2="616.2" y1="87.2" y2="87.2" stroke="#333" stroke-width="0.75"/>
<text x="612.1" y="89.65" font-size="7" fill="#404040" text-anchor="end" textLength="4.05" lengthAdjust="spacingAndGlyphs" stroke="#404040" stroke-width="0.18">0</text>
<line x1="613.5" x2="616.2" y1="73.9" y2="73.9" stroke="#333" stroke-width="0.75"/>
<text x="612.1" y="76.35" font-size="7" fill="#404040" text-anchor="end" textLength="12.15" lengthAdjust="spacingAndGlyphs" stroke="#404040" stroke-width="0.18">200</text>
<line x1="613.5" x2="616.2" y1="60.5" y2="60.5" stroke="#333" stroke-width="0.75"/>
<text x="612.1" y="62.95" font-size="7" fill="#404040" text-anchor="end" textLength="12.15" lengthAdjust="spacingAndGlyphs" stroke="#404040" stroke-width="0.18">400</text>
<line x1="613.5" x2="616.2" y1="47.2" y2="47.2" stroke="#333" stroke-width="0.75"/>
<text x="612.1" y="49.65" font-size="7" fill="#404040" text-anchor="end" textLength="12.15" lengthAdjust="spacingAndGlyphs" stroke="#404040" stroke-width="0.18">600</text>
<line x1="613.5" x2="616.2" y1="34.2" y2="34.2" stroke="#333" stroke-width="0.75"/>
<text x="612.1" y="36.65" font-size="7" fill="#404040" text-anchor="end" textLength="12.15" lengthAdjust="spacingAndGlyphs" stroke="#404040" stroke-width="0.18">800</text>
<text x="589.35" y="59.35" font-size="9.6" fill="#3a3a3a" text-anchor="middle" textLength="33" lengthAdjust="spacingAndGlyphs" transform="rotate(-90 589.35 59.35)">Proteins</text>
<rect x="55.35" y="206.25" width="19.49" height="29.5" fill="#ee7318"/>
<rect x="77" y="194.5" width="19.49" height="41.25" fill="#5cbf22"/>
<rect x="98.66" y="185" width="19.49" height="50.75" fill="#1ba0da"/>
<circle cx="62.55" cy="206.21" r="2.45" fill="none" stroke="#000" stroke-width="1.2"/>
<circle cx="58.93" cy="206.51" r="2.45" fill="none" stroke="#000" stroke-width="1.2"/>
<circle cx="65.61" cy="205.24" r="2.45" fill="none" stroke="#000" stroke-width="1.2"/>
<circle cx="65.2" cy="205.68" r="2.45" fill="none" stroke="#000" stroke-width="1.2"/>
<circle cx="58.42" cy="205.14" r="2.45" fill="none" stroke="#000" stroke-width="1.2"/>
<circle cx="59.19" cy="205.59" r="2.45" fill="none" stroke="#000" stroke-width="1.2"/>
<circle cx="64.01" cy="205.66" r="2.45" fill="none" stroke="#000" stroke-width="1.2"/>
<circle cx="61.1" cy="205.04" r="2.45" fill="none" stroke="#000" stroke-width="1.2"/>
<circle cx="66.93" cy="206.57" r="2.45" fill="none" stroke="#000" stroke-width="1.2"/>
<circle cx="63.6" cy="205.07" r="2.45" fill="none" stroke="#000" stroke-width="1.2"/>
<circle cx="71.96" cy="207.15" r="2.45" fill="none" stroke="#000" stroke-width="1.2"/>
<circle cx="62.06" cy="205.96" r="2.45" fill="none" stroke="#000" stroke-width="1.2"/>
<circle cx="59.96" cy="206.02" r="2.45" fill="none" stroke="#000" stroke-width="1.2"/>
<circle cx="69.65" cy="205.97" r="2.45" fill="none" stroke="#000" stroke-width="1.2"/>
<circle cx="60.49" cy="204.33" r="2.45" fill="none" stroke="#000" stroke-width="1.2"/>
<circle cx="63.25" cy="204.82" r="2.45" fill="none" stroke="#000" stroke-width="1.2"/>
<circle cx="65.78" cy="205.74" r="2.45" fill="none" stroke="#000" stroke-width="1.2"/>
<circle cx="60.85" cy="205.57" r="2.45" fill="none" stroke="#000" stroke-width="1.2"/>
<circle cx="67.7" cy="204.75" r="2.45" fill="none" stroke="#000" stroke-width="1.2"/>
<circle cx="66.33" cy="205.79" r="2.45" fill="none" stroke="#000" stroke-width="1.2"/>
<circle cx="86.07" cy="193.21" r="2.45" fill="none" stroke="#000" stroke-width="1.2"/>
<circle cx="89.62" cy="195.22" r="2.45" fill="none" stroke="#000" stroke-width="1.2"/>
<circle cx="83.06" cy="192.72" r="2.45" fill="none" stroke="#000" stroke-width="1.2"/>
<circle cx="92.16" cy="193.2" r="2.45" fill="none" stroke="#000" stroke-width="1.2"/>
<circle cx="90.06" cy="193.1" r="2.45" fill="none" stroke="#000" stroke-width="1.2"/>
<circle cx="81.24" cy="196.15" r="2.45" fill="none" stroke="#000" stroke-width="1.2"/>
<circle cx="85.57" cy="193.72" r="2.45" fill="none" stroke="#000" stroke-width="1.2"/>
<circle cx="86.59" cy="193.18" r="2.45" fill="none" stroke="#000" stroke-width="1.2"/>
<circle cx="80.1" cy="192.95" r="2.45" fill="none" stroke="#000" stroke-width="1.2"/>
<circle cx="87.8" cy="192.37" r="2.45" fill="none" stroke="#000" stroke-width="1.2"/>
<circle cx="92.17" cy="193.16" r="2.45" fill="none" stroke="#000" stroke-width="1.2"/>
<circle cx="88.11" cy="194.98" r="2.45" fill="none" stroke="#000" stroke-width="1.2"/>
<circle cx="87.9" cy="192.04" r="2.45" fill="none" stroke="#000" stroke-width="1.2"/>
<circle cx="93.16" cy="194.17" r="2.45" fill="none" stroke="#000" stroke-width="1.2"/>
<circle cx="86.38" cy="193.54" r="2.45" fill="none" stroke="#000" stroke-width="1.2"/>
<circle cx="89.66" cy="193.43" r="2.45" fill="none" stroke="#000" stroke-width="1.2"/>
<circle cx="88.87" cy="195.37" r="2.45" fill="none" stroke="#000" stroke-width="1.2"/>
<circle cx="83.64" cy="193.63" r="2.45" fill="none" stroke="#000" stroke-width="1.2"/>
<circle cx="85.1" cy="193.61" r="2.45" fill="none" stroke="#000" stroke-width="1.2"/>
<circle cx="86.2" cy="193.53" r="2.45" fill="none" stroke="#000" stroke-width="1.2"/>
<circle cx="103.62" cy="184.43" r="2.45" fill="none" stroke="#000" stroke-width="1.2"/>
<circle cx="112.27" cy="184.41" r="2.45" fill="none" stroke="#000" stroke-width="1.2"/>
<circle cx="103.06" cy="184.21" r="2.45" fill="none" stroke="#000" stroke-width="1.2"/>
<circle cx="113.76" cy="185.1" r="2.45" fill="none" stroke="#000" stroke-width="1.2"/>
<circle cx="102.36" cy="183.12" r="2.45" fill="none" stroke="#000" stroke-width="1.2"/>
<circle cx="113.94" cy="184.56" r="2.45" fill="none" stroke="#000" stroke-width="1.2"/>
<circle cx="113.01" cy="184.68" r="2.45" fill="none" stroke="#000" stroke-width="1.2"/>
<circle cx="107.18" cy="183.65" r="2.45" fill="none" stroke="#000" stroke-width="1.2"/>
<circle cx="106.37" cy="185.89" r="2.45" fill="none" stroke="#000" stroke-width="1.2"/>
<circle cx="103.37" cy="182.69" r="2.45" fill="none" stroke="#000" stroke-width="1.2"/>
<circle cx="103.74" cy="184.27" r="2.45" fill="none" stroke="#000" stroke-width="1.2"/>
<circle cx="108.19" cy="184.85" r="2.45" fill="none" stroke="#000" stroke-width="1.2"/>
<circle cx="109.69" cy="184.19" r="2.45" fill="none" stroke="#000" stroke-width="1.2"/>
<circle cx="107.24" cy="184.28" r="2.45" fill="none" stroke="#000" stroke-width="1.2"/>
<circle cx="106.52" cy="182.16" r="2.45" fill="none" stroke="#000" stroke-width="1.2"/>
<circle cx="111.15" cy="183.3" r="2.45" fill="none" stroke="#000" stroke-width="1.2"/>
<circle cx="108.63" cy="183.2" r="2.45" fill="none" stroke="#000" stroke-width="1.2"/>
<circle cx="101.97" cy="183.29" r="2.45" fill="none" stroke="#000" stroke-width="1.2"/>
<circle cx="114.17" cy="184.54" r="2.45" fill="none" stroke="#000" stroke-width="1.2"/>
<circle cx="112.7" cy="182.4" r="2.45" fill="none" stroke="#000" stroke-width="1.2"/>
<rect x="52.1" y="178" width="69.3" height="60.25" fill="none" stroke="#4f5860" stroke-width="0.7"/>
<line x1="65.09" x2="65.09" y1="238.25" y2="240.95" stroke="#333" stroke-width="0.75"/>
<text x="67.44" y="243.85" font-size="7" fill="#404040" text-anchor="end" textLength="36.2" lengthAdjust="spacingAndGlyphs" transform="rotate(-90 67.44 243.85)" stroke="#404040" stroke-width="0.18">Sequest HT</text>
<line x1="86.75" x2="86.75" y1="238.25" y2="240.95" stroke="#333" stroke-width="0.75"/>
<text x="89.1" y="243.85" font-size="7" fill="#404040" text-anchor="end" textLength="35.3" lengthAdjust="spacingAndGlyphs" transform="rotate(-90 89.1 243.85)" stroke="#404040" stroke-width="0.18">MSFragger</text>
<line x1="108.41" x2="108.41" y1="238.25" y2="240.95" stroke="#333" stroke-width="0.75"/>
<text x="110.76" y="243.85" font-size="7" fill="#404040" text-anchor="end" textLength="32.2" lengthAdjust="spacingAndGlyphs" transform="rotate(-90 110.76 243.85)" stroke="#404040" stroke-width="0.18">CHIMERYS</text>
<line x1="49.4" x2="52.1" y1="235.75" y2="235.75" stroke="#333" stroke-width="0.75"/>
<text x="48" y="238.2" font-size="7" fill="#404040" text-anchor="end" textLength="4.05" lengthAdjust="spacingAndGlyphs" stroke="#404040" stroke-width="0.18">0</text>
<line x1="49.4" x2="52.1" y1="220.75" y2="220.75" stroke="#333" stroke-width="0.75"/>
<text x="48" y="223.2" font-size="7" fill="#404040" text-anchor="end" textLength="14.98" lengthAdjust="spacingAndGlyphs" stroke="#404040" stroke-width="0.18">2.5K</text>
<line x1="49.4" x2="52.1" y1="205.75" y2="205.75" stroke="#333" stroke-width="0.75"/>
<text x="48" y="208.2" font-size="7" fill="#404040" text-anchor="end" textLength="14.98" lengthAdjust="spacingAndGlyphs" stroke="#404040" stroke-width="0.18">5.0K</text>
<line x1="49.4" x2="52.1" y1="191" y2="191" stroke="#333" stroke-width="0.75"/>
<text x="48" y="193.45" font-size="7" fill="#404040" text-anchor="end" textLength="14.98" lengthAdjust="spacingAndGlyphs" stroke="#404040" stroke-width="0.18">7.5K</text>
<text x="13.55" y="208.12" font-size="9.6" fill="#3a3a3a" text-anchor="middle" textLength="21.1" lengthAdjust="spacingAndGlyphs" transform="rotate(-90 13.55 208.12)">PSMs</text>
<rect x="165.36" y="189.5" width="28.55" height="46.25" fill="#ee7318"/>
<rect x="197.09" y="183" width="28.55" height="52.75" fill="#1ba0da"/>
<circle cx="173.86" cy="189.15" r="2.45" fill="none" stroke="#000" stroke-width="1.2"/>
<circle cx="183.96" cy="188.59" r="2.45" fill="none" stroke="#000" stroke-width="1.2"/>
<circle cx="170.87" cy="188.75" r="2.45" fill="none" stroke="#000" stroke-width="1.2"/>
<circle cx="173.5" cy="192.08" r="2.45" fill="none" stroke="#000" stroke-width="1.2"/>
<circle cx="182.63" cy="187.74" r="2.45" fill="none" stroke="#000" stroke-width="1.2"/>
<circle cx="179.53" cy="188.95" r="2.45" fill="none" stroke="#000" stroke-width="1.2"/>
<circle cx="173.13" cy="188.89" r="2.45" fill="none" stroke="#000" stroke-width="1.2"/>
<circle cx="174.02" cy="188.36" r="2.45" fill="none" stroke="#000" stroke-width="1.2"/>
<circle cx="169.49" cy="188.6" r="2.45" fill="none" stroke="#000" stroke-width="1.2"/>
<circle cx="188.13" cy="189.62" r="2.45" fill="none" stroke="#000" stroke-width="1.2"/>
<circle cx="177.08" cy="189.23" r="2.45" fill="none" stroke="#000" stroke-width="1.2"/>
<circle cx="190.02" cy="189.16" r="2.45" fill="none" stroke="#000" stroke-width="1.2"/>
<circle cx="170.4" cy="188.06" r="2.45" fill="none" stroke="#000" stroke-width="1.2"/>
<circle cx="183.04" cy="188.1" r="2.45" fill="none" stroke="#000" stroke-width="1.2"/>
<circle cx="176.22" cy="188.32" r="2.45" fill="none" stroke="#000" stroke-width="1.2"/>
<circle cx="182.8" cy="187.72" r="2.45" fill="none" stroke="#000" stroke-width="1.2"/>
<circle cx="188.12" cy="188.27" r="2.45" fill="none" stroke="#000" stroke-width="1.2"/>
<circle cx="170.43" cy="188.46" r="2.45" fill="none" stroke="#000" stroke-width="1.2"/>
<circle cx="189.06" cy="188.11" r="2.45" fill="none" stroke="#000" stroke-width="1.2"/>
<circle cx="189.06" cy="188.74" r="2.45" fill="none" stroke="#000" stroke-width="1.2"/>
<circle cx="213.03" cy="181.96" r="2.45" fill="none" stroke="#000" stroke-width="1.2"/>
<circle cx="206.83" cy="180.6" r="2.45" fill="none" stroke="#000" stroke-width="1.2"/>
<circle cx="208.34" cy="182.55" r="2.45" fill="none" stroke="#000" stroke-width="1.2"/>
<circle cx="216.95" cy="181.86" r="2.45" fill="none" stroke="#000" stroke-width="1.2"/>
<circle cx="202.86" cy="181.69" r="2.45" fill="none" stroke="#000" stroke-width="1.2"/>
<circle cx="220.87" cy="180.9" r="2.45" fill="none" stroke="#000" stroke-width="1.2"/>
<circle cx="218.62" cy="181.6" r="2.45" fill="none" stroke="#000" stroke-width="1.2"/>
<circle cx="203.97" cy="182.19" r="2.45" fill="none" stroke="#000" stroke-width="1.2"/>
<circle cx="211.97" cy="181.85" r="2.45" fill="none" stroke="#000" stroke-width="1.2"/>
<circle cx="219.88" cy="182.18" r="2.45" fill="none" stroke="#000" stroke-width="1.2"/>
<circle cx="211.52" cy="182.01" r="2.45" fill="none" stroke="#000" stroke-width="1.2"/>
<circle cx="205.95" cy="181.6" r="2.45" fill="none" stroke="#000" stroke-width="1.2"/>
<circle cx="201.05" cy="181.81" r="2.45" fill="none" stroke="#000" stroke-width="1.2"/>
<circle cx="209.75" cy="182.79" r="2.45" fill="none" stroke="#000" stroke-width="1.2"/>
<circle cx="208.76" cy="183.16" r="2.45" fill="none" stroke="#000" stroke-width="1.2"/>
<circle cx="204.5" cy="180.6" r="2.45" fill="none" stroke="#000" stroke-width="1.2"/>
<circle cx="209.17" cy="182.87" r="2.45" fill="none" stroke="#000" stroke-width="1.2"/>
<circle cx="221.4" cy="183.35" r="2.45" fill="none" stroke="#000" stroke-width="1.2"/>
<circle cx="205.06" cy="182.28" r="2.45" fill="none" stroke="#000" stroke-width="1.2"/>
<circle cx="201.08" cy="181.44" r="2.45" fill="none" stroke="#000" stroke-width="1.2"/>
<rect x="160.6" y="178" width="69.8" height="60.25" fill="none" stroke="#4f5860" stroke-width="0.7"/>
<line x1="179.64" x2="179.64" y1="238.25" y2="240.95" stroke="#333" stroke-width="0.75"/>
<text x="181.99" y="243.85" font-size="7" fill="#404040" text-anchor="end" textLength="36.2" lengthAdjust="spacingAndGlyphs" transform="rotate(-90 181.99 243.85)" stroke="#404040" stroke-width="0.18">Sequest HT</text>
<line x1="211.36" x2="211.36" y1="238.25" y2="240.95" stroke="#333" stroke-width="0.75"/>
<text x="213.71" y="243.85" font-size="7" fill="#404040" text-anchor="end" textLength="32.2" lengthAdjust="spacingAndGlyphs" transform="rotate(-90 213.71 243.85)" stroke="#404040" stroke-width="0.18">CHIMERYS</text>
<line x1="157.9" x2="160.6" y1="235.75" y2="235.75" stroke="#333" stroke-width="0.75"/>
<text x="156.5" y="238.2" font-size="7" fill="#404040" text-anchor="end" textLength="4.05" lengthAdjust="spacingAndGlyphs" stroke="#404040" stroke-width="0.18">0</text>
<line x1="157.9" x2="160.6" y1="220.75" y2="220.75" stroke="#333" stroke-width="0.75"/>
<text x="156.5" y="223.2" font-size="7" fill="#404040" text-anchor="end" textLength="8.9" lengthAdjust="spacingAndGlyphs" stroke="#404040" stroke-width="0.18">1K</text>
<line x1="157.9" x2="160.6" y1="206" y2="206" stroke="#333" stroke-width="0.75"/>
<text x="156.5" y="208.45" font-size="7" fill="#404040" text-anchor="end" textLength="8.9" lengthAdjust="spacingAndGlyphs" stroke="#404040" stroke-width="0.18">2K</text>
<line x1="157.9" x2="160.6" y1="191" y2="191" stroke="#333" stroke-width="0.75"/>
<text x="156.5" y="193.45" font-size="7" fill="#404040" text-anchor="end" textLength="8.9" lengthAdjust="spacingAndGlyphs" stroke="#404040" stroke-width="0.18">3K</text>
<text x="137.8" y="208.12" font-size="9.6" fill="#3a3a3a" text-anchor="middle" textLength="59.5" lengthAdjust="spacingAndGlyphs" transform="rotate(-90 137.8 208.12)">Peptidegroups</text>
<rect x="276.69" y="193.75" width="19.72" height="42" fill="#ee7318"/>
<rect x="298.59" y="182" width="19.72" height="53.75" fill="#5cbf22"/>
<rect x="320.5" y="187.5" width="19.72" height="48.25" fill="#1ba0da"/>
<circle cx="286" cy="192.49" r="2.45" fill="none" stroke="#000" stroke-width="1.2"/>
<circle cx="291.89" cy="193.42" r="2.45" fill="none" stroke="#000" stroke-width="1.2"/>
<circle cx="279.34" cy="190.38" r="2.45" fill="none" stroke="#000" stroke-width="1.2"/>
<circle cx="280.43" cy="192.91" r="2.45" fill="none" stroke="#000" stroke-width="1.2"/>
<circle cx="287.34" cy="192.69" r="2.45" fill="none" stroke="#000" stroke-width="1.2"/>
<circle cx="284.78" cy="192.72" r="2.45" fill="none" stroke="#000" stroke-width="1.2"/>
<circle cx="289.51" cy="191.11" r="2.45" fill="none" stroke="#000" stroke-width="1.2"/>
<circle cx="281.54" cy="193.52" r="2.45" fill="none" stroke="#000" stroke-width="1.2"/>
<circle cx="282.72" cy="194.04" r="2.45" fill="none" stroke="#000" stroke-width="1.2"/>
<circle cx="292.73" cy="193.87" r="2.45" fill="none" stroke="#000" stroke-width="1.2"/>
<circle cx="287.86" cy="193.13" r="2.45" fill="none" stroke="#000" stroke-width="1.2"/>
<circle cx="290.13" cy="191.78" r="2.45" fill="none" stroke="#000" stroke-width="1.2"/>
<circle cx="280.73" cy="192.49" r="2.45" fill="none" stroke="#000" stroke-width="1.2"/>
<circle cx="289.84" cy="194.69" r="2.45" fill="none" stroke="#000" stroke-width="1.2"/>
<circle cx="285.4" cy="193.76" r="2.45" fill="none" stroke="#000" stroke-width="1.2"/>
<circle cx="282.31" cy="193.44" r="2.45" fill="none" stroke="#000" stroke-width="1.2"/>
<circle cx="283.35" cy="193.24" r="2.45" fill="none" stroke="#000" stroke-width="1.2"/>
<circle cx="292.18" cy="192.2" r="2.45" fill="none" stroke="#000" stroke-width="1.2"/>
<circle cx="292.08" cy="194.05" r="2.45" fill="none" stroke="#000" stroke-width="1.2"/>
<circle cx="286.42" cy="193.35" r="2.45" fill="none" stroke="#000" stroke-width="1.2"/>
<circle cx="301.5" cy="180.6" r="2.45" fill="none" stroke="#000" stroke-width="1.2"/>
<circle cx="302.79" cy="182.39" r="2.45" fill="none" stroke="#000" stroke-width="1.2"/>
<circle cx="309.86" cy="182.34" r="2.45" fill="none" stroke="#000" stroke-width="1.2"/>
<circle cx="314.22" cy="182.29" r="2.45" fill="none" stroke="#000" stroke-width="1.2"/>
<circle cx="304.12" cy="181.7" r="2.45" fill="none" stroke="#000" stroke-width="1.2"/>
<circle cx="309.03" cy="181.23" r="2.45" fill="none" stroke="#000" stroke-width="1.2"/>
<circle cx="301.41" cy="182.41" r="2.45" fill="none" stroke="#000" stroke-width="1.2"/>
<circle cx="314.59" cy="181.91" r="2.45" fill="none" stroke="#000" stroke-width="1.2"/>
<circle cx="307.28" cy="180.6" r="2.45" fill="none" stroke="#000" stroke-width="1.2"/>
<circle cx="302.52" cy="182.22" r="2.45" fill="none" stroke="#000" stroke-width="1.2"/>
<circle cx="309.61" cy="181.97" r="2.45" fill="none" stroke="#000" stroke-width="1.2"/>
<circle cx="315.14" cy="182.65" r="2.45" fill="none" stroke="#000" stroke-width="1.2"/>
<circle cx="301.95" cy="180.6" r="2.45" fill="none" stroke="#000" stroke-width="1.2"/>
<circle cx="303.33" cy="180.64" r="2.45" fill="none" stroke="#000" stroke-width="1.2"/>
<circle cx="305.07" cy="185.42" r="2.45" fill="none" stroke="#000" stroke-width="1.2"/>
<circle cx="302.93" cy="181.06" r="2.45" fill="none" stroke="#000" stroke-width="1.2"/>
<circle cx="311.45" cy="182.04" r="2.45" fill="none" stroke="#000" stroke-width="1.2"/>
<circle cx="310.07" cy="180.93" r="2.45" fill="none" stroke="#000" stroke-width="1.2"/>
<circle cx="301.78" cy="180.6" r="2.45" fill="none" stroke="#000" stroke-width="1.2"/>
<circle cx="309.77" cy="182.54" r="2.45" fill="none" stroke="#000" stroke-width="1.2"/>
<circle cx="334.36" cy="187.65" r="2.45" fill="none" stroke="#000" stroke-width="1.2"/>
<circle cx="335.67" cy="187.27" r="2.45" fill="none" stroke="#000" stroke-width="1.2"/>
<circle cx="331.58" cy="185.54" r="2.45" fill="none" stroke="#000" stroke-width="1.2"/>
<circle cx="337.45" cy="187.07" r="2.45" fill="none" stroke="#000" stroke-width="1.2"/>
<circle cx="331.44" cy="188.84" r="2.45" fill="none" stroke="#000" stroke-width="1.2"/>
<circle cx="327.86" cy="186.95" r="2.45" fill="none" stroke="#000" stroke-width="1.2"/>
<circle cx="329.39" cy="187" r="2.45" fill="none" stroke="#000" stroke-width="1.2"/>
<circle cx="327.8" cy="187.97" r="2.45" fill="none" stroke="#000" stroke-width="1.2"/>
<circle cx="324.36" cy="186.32" r="2.45" fill="none" stroke="#000" stroke-width="1.2"/>
<circle cx="334.5" cy="186.29" r="2.45" fill="none" stroke="#000" stroke-width="1.2"/>
<circle cx="323.43" cy="187.12" r="2.45" fill="none" stroke="#000" stroke-width="1.2"/>
<circle cx="330.32" cy="184.56" r="2.45" fill="none" stroke="#000" stroke-width="1.2"/>
<circle cx="333.41" cy="186.72" r="2.45" fill="none" stroke="#000" stroke-width="1.2"/>
<circle cx="329.26" cy="188.66" r="2.45" fill="none" stroke="#000" stroke-width="1.2"/>
<circle cx="326.43" cy="187.88" r="2.45" fill="none" stroke="#000" stroke-width="1.2"/>
<circle cx="328.5" cy="186.43" r="2.45" fill="none" stroke="#000" stroke-width="1.2"/>
<circle cx="335.61" cy="185.49" r="2.45" fill="none" stroke="#000" stroke-width="1.2"/>
<circle cx="325.56" cy="188" r="2.45" fill="none" stroke="#000" stroke-width="1.2"/>
<circle cx="335.36" cy="186.68" r="2.45" fill="none" stroke="#000" stroke-width="1.2"/>
<circle cx="337.29" cy="187.09" r="2.45" fill="none" stroke="#000" stroke-width="1.2"/>
<rect x="273.4" y="178" width="70.1" height="60.25" fill="none" stroke="#4f5860" stroke-width="0.7"/>
<line x1="286.54" x2="286.54" y1="238.25" y2="240.95" stroke="#333" stroke-width="0.75"/>
<text x="288.89" y="243.85" font-size="7" fill="#404040" text-anchor="end" textLength="36.2" lengthAdjust="spacingAndGlyphs" transform="rotate(-90 288.89 243.85)" stroke="#404040" stroke-width="0.18">Sequest HT</text>
<line x1="308.45" x2="308.45" y1="238.25" y2="240.95" stroke="#333" stroke-width="0.75"/>
<text x="310.8" y="243.85" font-size="7" fill="#404040" text-anchor="end" textLength="35.3" lengthAdjust="spacingAndGlyphs" transform="rotate(-90 310.8 243.85)" stroke="#404040" stroke-width="0.18">MSFragger</text>
<line x1="330.36" x2="330.36" y1="238.25" y2="240.95" stroke="#333" stroke-width="0.75"/>
<text x="332.71" y="243.85" font-size="7" fill="#404040" text-anchor="end" textLength="32.2" lengthAdjust="spacingAndGlyphs" transform="rotate(-90 332.71 243.85)" stroke="#404040" stroke-width="0.18">CHIMERYS</text>
<line x1="270.7" x2="273.4" y1="235.75" y2="235.75" stroke="#333" stroke-width="0.75"/>
<text x="269.3" y="238.2" font-size="7" fill="#404040" text-anchor="end" textLength="4.05" lengthAdjust="spacingAndGlyphs" stroke="#404040" stroke-width="0.18">0</text>
<line x1="270.7" x2="273.4" y1="219.25" y2="219.25" stroke="#333" stroke-width="0.75"/>
<text x="269.3" y="221.7" font-size="7" fill="#404040" text-anchor="end" textLength="12.15" lengthAdjust="spacingAndGlyphs" stroke="#404040" stroke-width="0.18">100</text>
<line x1="270.7" x2="273.4" y1="202.5" y2="202.5" stroke="#333" stroke-width="0.75"/>
<text x="269.3" y="204.95" font-size="7" fill="#404040" text-anchor="end" textLength="12.15" lengthAdjust="spacingAndGlyphs" stroke="#404040" stroke-width="0.18">200</text>
<line x1="270.7" x2="273.4" y1="185.75" y2="185.75" stroke="#333" stroke-width="0.75"/>
<text x="269.3" y="188.2" font-size="7" fill="#404040" text-anchor="end" textLength="12.15" lengthAdjust="spacingAndGlyphs" stroke="#404040" stroke-width="0.18">300</text>
<text x="247.05" y="208.12" font-size="9.6" fill="#3a3a3a" text-anchor="middle" textLength="33" lengthAdjust="spacingAndGlyphs" transform="rotate(-90 247.05 208.12)">Proteins</text>
<rect x="396.67" y="217" width="19.63" height="18.75" fill="#ee7318"/>
<rect x="418.48" y="214" width="19.63" height="21.75" fill="#5cbf22"/>
<rect x="440.3" y="183" width="19.63" height="52.75" fill="#1ba0da"/>
<circle cx="404.59" cy="216.5" r="2.45" fill="none" stroke="#000" stroke-width="1.2"/>
<circle cx="406.89" cy="215.9" r="2.45" fill="none" stroke="#000" stroke-width="1.2"/>
<circle cx="408.09" cy="218.5" r="2.45" fill="none" stroke="#000" stroke-width="1.2"/>
<circle cx="426.9" cy="215" r="2.45" fill="none" stroke="#000" stroke-width="1.2"/>
<circle cx="428.1" cy="214" r="2.45" fill="none" stroke="#000" stroke-width="1.2"/>
<circle cx="429.3" cy="213" r="2.45" fill="none" stroke="#000" stroke-width="1.2"/>
<circle cx="450.21" cy="180.3" r="2.45" fill="none" stroke="#000" stroke-width="1.2"/>
<circle cx="451.91" cy="181.4" r="2.45" fill="none" stroke="#000" stroke-width="1.2"/>
<circle cx="451.01" cy="186.7" r="2.45" fill="none" stroke="#000" stroke-width="1.2"/>
<rect x="393.4" y="178" width="69.8" height="60.25" fill="none" stroke="#4f5860" stroke-width="0.7"/>
<line x1="406.49" x2="406.49" y1="238.25" y2="240.95" stroke="#333" stroke-width="0.75"/>
<text x="408.84" y="243.85" font-size="7" fill="#404040" text-anchor="end" textLength="36.2" lengthAdjust="spacingAndGlyphs" transform="rotate(-90 408.84 243.85)" stroke="#404040" stroke-width="0.18">Sequest HT</text>
<line x1="428.3" x2="428.3" y1="238.25" y2="240.95" stroke="#333" stroke-width="0.75"/>
<text x="430.65" y="243.85" font-size="7" fill="#404040" text-anchor="end" textLength="35.3" lengthAdjust="spacingAndGlyphs" transform="rotate(-90 430.65 243.85)" stroke="#404040" stroke-width="0.18">MSFragger</text>
<line x1="450.11" x2="450.11" y1="238.25" y2="240.95" stroke="#333" stroke-width="0.75"/>
<text x="452.46" y="243.85" font-size="7" fill="#404040" text-anchor="end" textLength="32.2" lengthAdjust="spacingAndGlyphs" transform="rotate(-90 452.46 243.85)" stroke="#404040" stroke-width="0.18">CHIMERYS</text>
<line x1="390.7" x2="393.4" y1="235.75" y2="235.75" stroke="#333" stroke-width="0.75"/>
<text x="389.3" y="238.2" font-size="7" fill="#404040" text-anchor="end" textLength="4.05" lengthAdjust="spacingAndGlyphs" stroke="#404040" stroke-width="0.18">0</text>
<line x1="390.7" x2="393.4" y1="220" y2="220" stroke="#333" stroke-width="0.75"/>
<text x="389.3" y="222.45" font-size="7" fill="#404040" text-anchor="end" textLength="12.95" lengthAdjust="spacingAndGlyphs" stroke="#404040" stroke-width="0.18">25K</text>
<line x1="390.7" x2="393.4" y1="204.25" y2="204.25" stroke="#333" stroke-width="0.75"/>
<text x="389.3" y="206.7" font-size="7" fill="#404040" text-anchor="end" textLength="12.95" lengthAdjust="spacingAndGlyphs" stroke="#404040" stroke-width="0.18">50K</text>
<line x1="390.7" x2="393.4" y1="188.25" y2="188.25" stroke="#333" stroke-width="0.75"/>
<text x="389.3" y="190.7" font-size="7" fill="#404040" text-anchor="end" textLength="12.95" lengthAdjust="spacingAndGlyphs" stroke="#404040" stroke-width="0.18">75K</text>
<text x="366.8" y="208.12" font-size="9.6" fill="#3a3a3a" text-anchor="middle" textLength="21.1" lengthAdjust="spacingAndGlyphs" transform="rotate(-90 366.8 208.12)">PSMs</text>
<rect x="511.15" y="204.8" width="28.47" height="30.95" fill="#ee7318"/>
<rect x="542.78" y="183.2" width="28.47" height="52.55" fill="#1ba0da"/>
<circle cx="522.08" cy="202.8" r="2.45" fill="none" stroke="#000" stroke-width="1.2"/>
<circle cx="526.58" cy="204" r="2.45" fill="none" stroke="#000" stroke-width="1.2"/>
<circle cx="526.88" cy="207" r="2.45" fill="none" stroke="#000" stroke-width="1.2"/>
<circle cx="556.02" cy="180.9" r="2.45" fill="none" stroke="#000" stroke-width="1.2"/>
<circle cx="556.52" cy="181.4" r="2.45" fill="none" stroke="#000" stroke-width="1.2"/>
<circle cx="558.82" cy="187" r="2.45" fill="none" stroke="#000" stroke-width="1.2"/>
<rect x="506.4" y="178" width="69.6" height="60.25" fill="none" stroke="#4f5860" stroke-width="0.7"/>
<line x1="525.38" x2="525.38" y1="238.25" y2="240.95" stroke="#333" stroke-width="0.75"/>
<text x="527.73" y="243.85" font-size="7" fill="#404040" text-anchor="end" textLength="36.2" lengthAdjust="spacingAndGlyphs" transform="rotate(-90 527.73 243.85)" stroke="#404040" stroke-width="0.18">Sequest HT</text>
<line x1="557.02" x2="557.02" y1="238.25" y2="240.95" stroke="#333" stroke-width="0.75"/>
<text x="559.37" y="243.85" font-size="7" fill="#404040" text-anchor="end" textLength="32.2" lengthAdjust="spacingAndGlyphs" transform="rotate(-90 559.37 243.85)" stroke="#404040" stroke-width="0.18">CHIMERYS</text>
<line x1="503.7" x2="506.4" y1="235.75" y2="235.75" stroke="#333" stroke-width="0.75"/>
<text x="502.3" y="238.2" font-size="7" fill="#404040" text-anchor="end" textLength="4.05" lengthAdjust="spacingAndGlyphs" stroke="#404040" stroke-width="0.18">0</text>
<line x1="503.7" x2="506.4" y1="222.75" y2="222.75" stroke="#333" stroke-width="0.75"/>
<text x="502.3" y="225.2" font-size="7" fill="#404040" text-anchor="end" textLength="12.95" lengthAdjust="spacingAndGlyphs" stroke="#404040" stroke-width="0.18">10K</text>
<line x1="503.7" x2="506.4" y1="210" y2="210" stroke="#333" stroke-width="0.75"/>
<text x="502.3" y="212.45" font-size="7" fill="#404040" text-anchor="end" textLength="12.95" lengthAdjust="spacingAndGlyphs" stroke="#404040" stroke-width="0.18">20K</text>
<line x1="503.7" x2="506.4" y1="197.25" y2="197.25" stroke="#333" stroke-width="0.75"/>
<text x="502.3" y="199.7" font-size="7" fill="#404040" text-anchor="end" textLength="12.95" lengthAdjust="spacingAndGlyphs" stroke="#404040" stroke-width="0.18">30K</text>
<line x1="503.7" x2="506.4" y1="184.5" y2="184.5" stroke="#333" stroke-width="0.75"/>
<text x="502.3" y="186.95" font-size="7" fill="#404040" text-anchor="end" textLength="12.95" lengthAdjust="spacingAndGlyphs" stroke="#404040" stroke-width="0.18">40K</text>
<text x="479.8" y="208.12" font-size="9.6" fill="#3a3a3a" text-anchor="middle" textLength="59.5" lengthAdjust="spacingAndGlyphs" transform="rotate(-90 479.8 208.12)">Peptidegroups</text>
<rect x="618.25" y="196.5" width="19.52" height="39.25" fill="#ee7318"/>
<rect x="639.94" y="192.2" width="19.52" height="43.55" fill="#5cbf22"/>
<rect x="661.63" y="183" width="19.52" height="52.75" fill="#1ba0da"/>
<circle cx="628.21" cy="195.3" r="2.45" fill="none" stroke="#000" stroke-width="1.2"/>
<circle cx="629.01" cy="196.1" r="2.45" fill="none" stroke="#000" stroke-width="1.2"/>
<circle cx="630.01" cy="198.7" r="2.45" fill="none" stroke="#000" stroke-width="1.2"/>
<circle cx="648.7" cy="194" r="2.45" fill="none" stroke="#000" stroke-width="1.2"/>
<circle cx="649" cy="191.2" r="2.45" fill="none" stroke="#000" stroke-width="1.2"/>
<circle cx="651.5" cy="191.2" r="2.45" fill="none" stroke="#000" stroke-width="1.2"/>
<circle cx="671.09" cy="180.5" r="2.45" fill="none" stroke="#000" stroke-width="1.2"/>
<circle cx="671.49" cy="181.8" r="2.45" fill="none" stroke="#000" stroke-width="1.2"/>
<circle cx="671.39" cy="186" r="2.45" fill="none" stroke="#000" stroke-width="1.2"/>
<rect x="615" y="178" width="69.4" height="60.25" fill="none" stroke="#4f5860" stroke-width="0.7"/>
<line x1="628.01" x2="628.01" y1="238.25" y2="240.95" stroke="#333" stroke-width="0.75"/>
<text x="630.36" y="243.85" font-size="7" fill="#404040" text-anchor="end" textLength="36.2" lengthAdjust="spacingAndGlyphs" transform="rotate(-90 630.36 243.85)" stroke="#404040" stroke-width="0.18">Sequest HT</text>
<line x1="649.7" x2="649.7" y1="238.25" y2="240.95" stroke="#333" stroke-width="0.75"/>
<text x="652.05" y="243.85" font-size="7" fill="#404040" text-anchor="end" textLength="35.3" lengthAdjust="spacingAndGlyphs" transform="rotate(-90 652.05 243.85)" stroke="#404040" stroke-width="0.18">MSFragger</text>
<line x1="671.39" x2="671.39" y1="238.25" y2="240.95" stroke="#333" stroke-width="0.75"/>
<text x="673.74" y="243.85" font-size="7" fill="#404040" text-anchor="end" textLength="32.2" lengthAdjust="spacingAndGlyphs" transform="rotate(-90 673.74 243.85)" stroke="#404040" stroke-width="0.18">CHIMERYS</text>
<line x1="612.3" x2="615" y1="235.7" y2="235.7" stroke="#333" stroke-width="0.75"/>
<text x="610.9" y="238.15" font-size="7" fill="#404040" text-anchor="end" textLength="4.05" lengthAdjust="spacingAndGlyphs" stroke="#404040" stroke-width="0.18">0</text>
<line x1="612.3" x2="615" y1="223.9" y2="223.9" stroke="#333" stroke-width="0.75"/>
<text x="610.9" y="226.35" font-size="7" fill="#404040" text-anchor="end" textLength="8.9" lengthAdjust="spacingAndGlyphs" stroke="#404040" stroke-width="0.18">1K</text>
<line x1="612.3" x2="615" y1="212.3" y2="212.3" stroke="#333" stroke-width="0.75"/>
<text x="610.9" y="214.75" font-size="7" fill="#404040" text-anchor="end" textLength="8.9" lengthAdjust="spacingAndGlyphs" stroke="#404040" stroke-width="0.18">2K</text>
<line x1="612.3" x2="615" y1="200.5" y2="200.5" stroke="#333" stroke-width="0.75"/>
<text x="610.9" y="202.95" font-size="7" fill="#404040" text-anchor="end" textLength="8.9" lengthAdjust="spacingAndGlyphs" stroke="#404040" stroke-width="0.18">3K</text>
<line x1="612.3" x2="615" y1="188.7" y2="188.7" stroke="#333" stroke-width="0.75"/>
<text x="610.9" y="191.15" font-size="7" fill="#404040" text-anchor="end" textLength="8.9" lengthAdjust="spacingAndGlyphs" stroke="#404040" stroke-width="0.18">4K</text>
<text x="591.95" y="208.12" font-size="9.6" fill="#3a3a3a" text-anchor="middle" textLength="33" lengthAdjust="spacingAndGlyphs" transform="rotate(-90 591.95 208.12)">Proteins</text>
<rect x="58.75" y="369.5" width="13.16" height="15" fill="#ee7318"/>
<rect x="71.86" y="360" width="13.16" height="24.5" fill="#5cbf22"/>
<rect x="84.97" y="356.25" width="13.16" height="28.25" fill="#1ba0da"/>
<rect x="102.44" y="362.5" width="13.16" height="22" fill="#ee7318"/>
<rect x="115.55" y="350" width="13.16" height="34.5" fill="#5cbf22"/>
<rect x="128.66" y="333.25" width="13.16" height="51.25" fill="#1ba0da"/>
<rect x="146.13" y="357" width="13.16" height="27.5" fill="#ee7318"/>
<rect x="159.24" y="340" width="13.16" height="44.5" fill="#5cbf22"/>
<rect x="172.35" y="337" width="13.16" height="47.5" fill="#1ba0da"/>
<rect x="189.82" y="368" width="13.16" height="16.5" fill="#ee7318"/>
<rect x="202.93" y="353" width="13.16" height="31.5" fill="#5cbf22"/>
<rect x="216.04" y="351.75" width="13.16" height="32.75" fill="#1ba0da"/>
<circle cx="65.12" cy="368.12" r="2.45" fill="none" stroke="#000" stroke-width="1.2"/>
<circle cx="67" cy="368.49" r="2.45" fill="none" stroke="#000" stroke-width="1.2"/>
<circle cx="65.34" cy="368.93" r="2.45" fill="none" stroke="#000" stroke-width="1.2"/>
<circle cx="64.05" cy="369.3" r="2.45" fill="none" stroke="#000" stroke-width="1.2"/>
<circle cx="65.83" cy="369.81" r="2.45" fill="none" stroke="#000" stroke-width="1.2"/>
<circle cx="63.68" cy="370.03" r="2.45" fill="none" stroke="#000" stroke-width="1.2"/>
<circle cx="76.78" cy="358.27" r="2.45" fill="none" stroke="#000" stroke-width="1.2"/>
<circle cx="79.19" cy="358.45" r="2.45" fill="none" stroke="#000" stroke-width="1.2"/>
<circle cx="80.34" cy="359.55" r="2.45" fill="none" stroke="#000" stroke-width="1.2"/>
<circle cx="79.03" cy="359.96" r="2.45" fill="none" stroke="#000" stroke-width="1.2"/>
<circle cx="77.04" cy="360.24" r="2.45" fill="none" stroke="#000" stroke-width="1.2"/>
<circle cx="78.53" cy="360.86" r="2.45" fill="none" stroke="#000" stroke-width="1.2"/>
<circle cx="90.28" cy="354.76" r="2.45" fill="none" stroke="#000" stroke-width="1.2"/>
<circle cx="89.64" cy="355.24" r="2.45" fill="none" stroke="#000" stroke-width="1.2"/>
<circle cx="91.28" cy="355.77" r="2.45" fill="none" stroke="#000" stroke-width="1.2"/>
<circle cx="91.6" cy="356.1" r="2.45" fill="none" stroke="#000" stroke-width="1.2"/>
<circle cx="91.52" cy="356.51" r="2.45" fill="none" stroke="#000" stroke-width="1.2"/>
<circle cx="91.35" cy="356.77" r="2.45" fill="none" stroke="#000" stroke-width="1.2"/>
<circle cx="110.99" cy="361.28" r="2.45" fill="none" stroke="#000" stroke-width="1.2"/>
<circle cx="110.36" cy="361.57" r="2.45" fill="none" stroke="#000" stroke-width="1.2"/>
<circle cx="108.26" cy="361.8" r="2.45" fill="none" stroke="#000" stroke-width="1.2"/>
<circle cx="108.15" cy="362.15" r="2.45" fill="none" stroke="#000" stroke-width="1.2"/>
<circle cx="110.06" cy="362.66" r="2.45" fill="none" stroke="#000" stroke-width="1.2"/>
<circle cx="110.38" cy="363.06" r="2.45" fill="none" stroke="#000" stroke-width="1.2"/>
<circle cx="123.94" cy="347.85" r="2.45" fill="none" stroke="#000" stroke-width="1.2"/>
<circle cx="120.11" cy="348.19" r="2.45" fill="none" stroke="#000" stroke-width="1.2"/>
<circle cx="123.75" cy="349.18" r="2.45" fill="none" stroke="#000" stroke-width="1.2"/>
<circle cx="124.03" cy="349.93" r="2.45" fill="none" stroke="#000" stroke-width="1.2"/>
<circle cx="120.4" cy="350.89" r="2.45" fill="none" stroke="#000" stroke-width="1.2"/>
<circle cx="123.22" cy="351.43" r="2.45" fill="none" stroke="#000" stroke-width="1.2"/>
<circle cx="133.56" cy="329.14" r="2.45" fill="none" stroke="#000" stroke-width="1.2"/>
<circle cx="137.07" cy="331.08" r="2.45" fill="none" stroke="#000" stroke-width="1.2"/>
<circle cx="133.68" cy="331.83" r="2.45" fill="none" stroke="#000" stroke-width="1.2"/>
<circle cx="133.62" cy="333" r="2.45" fill="none" stroke="#000" stroke-width="1.2"/>
<circle cx="136.4" cy="334.54" r="2.45" fill="none" stroke="#000" stroke-width="1.2"/>
<circle cx="135.45" cy="336.28" r="2.45" fill="none" stroke="#000" stroke-width="1.2"/>
<circle cx="151.45" cy="354.77" r="2.45" fill="none" stroke="#000" stroke-width="1.2"/>
<circle cx="151.21" cy="355.5" r="2.45" fill="none" stroke="#000" stroke-width="1.2"/>
<circle cx="151.15" cy="356.14" r="2.45" fill="none" stroke="#000" stroke-width="1.2"/>
<circle cx="151.54" cy="356.83" r="2.45" fill="none" stroke="#000" stroke-width="1.2"/>
<circle cx="154.57" cy="358.02" r="2.45" fill="none" stroke="#000" stroke-width="1.2"/>
<circle cx="151.9" cy="358.88" r="2.45" fill="none" stroke="#000" stroke-width="1.2"/>
<circle cx="164.64" cy="337.52" r="2.45" fill="none" stroke="#000" stroke-width="1.2"/>
<circle cx="167.21" cy="338.5" r="2.45" fill="none" stroke="#000" stroke-width="1.2"/>
<circle cx="164.2" cy="339.55" r="2.45" fill="none" stroke="#000" stroke-width="1.2"/>
<circle cx="164.65" cy="339.83" r="2.45" fill="none" stroke="#000" stroke-width="1.2"/>
<circle cx="166.89" cy="340.68" r="2.45" fill="none" stroke="#000" stroke-width="1.2"/>
<circle cx="164.98" cy="341.29" r="2.45" fill="none" stroke="#000" stroke-width="1.2"/>
<circle cx="177.26" cy="335.14" r="2.45" fill="none" stroke="#000" stroke-width="1.2"/>
<circle cx="177.87" cy="335.75" r="2.45" fill="none" stroke="#000" stroke-width="1.2"/>
<circle cx="178.39" cy="336.27" r="2.45" fill="none" stroke="#000" stroke-width="1.2"/>
<circle cx="180.74" cy="336.89" r="2.45" fill="none" stroke="#000" stroke-width="1.2"/>
<circle cx="179.2" cy="337.7" r="2.45" fill="none" stroke="#000" stroke-width="1.2"/>
<circle cx="177.63" cy="337.91" r="2.45" fill="none" stroke="#000" stroke-width="1.2"/>
<circle cx="198.01" cy="364.94" r="2.45" fill="none" stroke="#000" stroke-width="1.2"/>
<circle cx="195.38" cy="365.46" r="2.45" fill="none" stroke="#000" stroke-width="1.2"/>
<circle cx="197.34" cy="367.48" r="2.45" fill="none" stroke="#000" stroke-width="1.2"/>
<circle cx="195.16" cy="368.69" r="2.45" fill="none" stroke="#000" stroke-width="1.2"/>
<circle cx="197.91" cy="369.51" r="2.45" fill="none" stroke="#000" stroke-width="1.2"/>
<circle cx="196.06" cy="370.17" r="2.45" fill="none" stroke="#000" stroke-width="1.2"/>
<circle cx="207.64" cy="350.1" r="2.45" fill="none" stroke="#000" stroke-width="1.2"/>
<circle cx="208.44" cy="351.02" r="2.45" fill="none" stroke="#000" stroke-width="1.2"/>
<circle cx="208.51" cy="352.35" r="2.45" fill="none" stroke="#000" stroke-width="1.2"/>
<circle cx="209.87" cy="352.98" r="2.45" fill="none" stroke="#000" stroke-width="1.2"/>
<circle cx="208.19" cy="354.64" r="2.45" fill="none" stroke="#000" stroke-width="1.2"/>
<circle cx="207.76" cy="355.31" r="2.45" fill="none" stroke="#000" stroke-width="1.2"/>
<circle cx="222.83" cy="347.86" r="2.45" fill="none" stroke="#000" stroke-width="1.2"/>
<circle cx="223.05" cy="348.63" r="2.45" fill="none" stroke="#000" stroke-width="1.2"/>
<circle cx="224.26" cy="350.12" r="2.45" fill="none" stroke="#000" stroke-width="1.2"/>
<circle cx="220.66" cy="351.82" r="2.45" fill="none" stroke="#000" stroke-width="1.2"/>
<circle cx="222.38" cy="353.12" r="2.45" fill="none" stroke="#000" stroke-width="1.2"/>
<circle cx="221.3" cy="355.16" r="2.45" fill="none" stroke="#000" stroke-width="1.2"/>
<rect x="52.2" y="326.75" width="183.5" height="59.5" fill="none" stroke="#4f5860" stroke-width="0.7"/>
<line x1="78.41" x2="78.41" y1="386.25" y2="388.95" stroke="#333" stroke-width="0.75"/>
<text x="80.76" y="391.85" font-size="7" fill="#404040" text-anchor="end" textLength="35" lengthAdjust="spacingAndGlyphs" transform="rotate(-90 80.76 391.85)" stroke="#404040" stroke-width="0.18">Astrocytes</text>
<line x1="122.1" x2="122.1" y1="386.25" y2="388.95" stroke="#333" stroke-width="0.75"/>
<text x="124.45" y="391.85" font-size="7" fill="#404040" text-anchor="end" textLength="29.3" lengthAdjust="spacingAndGlyphs" transform="rotate(-90 124.45 391.85)" stroke="#404040" stroke-width="0.18">Microglia</text>
<line x1="165.8" x2="165.8" y1="386.25" y2="388.95" stroke="#333" stroke-width="0.75"/>
<text x="168.15" y="391.85" font-size="7" fill="#404040" text-anchor="end" textLength="27.6" lengthAdjust="spacingAndGlyphs" transform="rotate(-90 168.15 391.85)" stroke="#404040" stroke-width="0.18">Neurons</text>
<line x1="209.49" x2="209.49" y1="386.25" y2="388.95" stroke="#333" stroke-width="0.75"/>
<text x="211.84" y="391.85" font-size="7" fill="#404040" text-anchor="end" textLength="58" lengthAdjust="spacingAndGlyphs" transform="rotate(-90 211.84 391.85)" stroke="#404040" stroke-width="0.18">Oligodendrocytes</text>
<line x1="49.5" x2="52.2" y1="384.5" y2="384.5" stroke="#333" stroke-width="0.75"/>
<text x="48.1" y="386.95" font-size="7" fill="#404040" text-anchor="end" textLength="4.05" lengthAdjust="spacingAndGlyphs" stroke="#404040" stroke-width="0.18">0</text>
<line x1="49.5" x2="52.2" y1="368.25" y2="368.25" stroke="#333" stroke-width="0.75"/>
<text x="48.1" y="370.7" font-size="7" fill="#404040" text-anchor="end" textLength="8.9" lengthAdjust="spacingAndGlyphs" stroke="#404040" stroke-width="0.18">2K</text>
<line x1="49.5" x2="52.2" y1="352" y2="352" stroke="#333" stroke-width="0.75"/>
<text x="48.1" y="354.45" font-size="7" fill="#404040" text-anchor="end" textLength="8.9" lengthAdjust="spacingAndGlyphs" stroke="#404040" stroke-width="0.18">4K</text>
<line x1="49.5" x2="52.2" y1="335.5" y2="335.5" stroke="#333" stroke-width="0.75"/>
<text x="48.1" y="337.95" font-size="7" fill="#404040" text-anchor="end" textLength="8.9" lengthAdjust="spacingAndGlyphs" stroke="#404040" stroke-width="0.18">6K</text>
<text x="13.55" y="356.5" font-size="9.6" fill="#3a3a3a" text-anchor="middle" textLength="21.1" lengthAdjust="spacingAndGlyphs" transform="rotate(-90 13.55 356.5)">PSMs</text>
<rect x="281.16" y="366" width="19.74" height="18.5" fill="#ee7318"/>
<rect x="300.86" y="356.25" width="19.74" height="28.25" fill="#1ba0da"/>
<rect x="324.93" y="357.25" width="19.74" height="27.25" fill="#ee7318"/>
<rect x="344.62" y="335.5" width="19.74" height="49" fill="#1ba0da"/>
<rect x="368.69" y="349.5" width="19.74" height="35" fill="#ee7318"/>
<rect x="388.38" y="333" width="19.74" height="51.5" fill="#1ba0da"/>
<rect x="412.45" y="363" width="19.74" height="21.5" fill="#ee7318"/>
<rect x="432.14" y="348" width="19.74" height="36.5" fill="#1ba0da"/>
<circle cx="290.91" cy="364.47" r="2.45" fill="none" stroke="#000" stroke-width="1.2"/>
<circle cx="291.68" cy="364.73" r="2.45" fill="none" stroke="#000" stroke-width="1.2"/>
<circle cx="289.05" cy="365.31" r="2.45" fill="none" stroke="#000" stroke-width="1.2"/>
<circle cx="290.11" cy="365.97" r="2.45" fill="none" stroke="#000" stroke-width="1.2"/>
<circle cx="291.77" cy="366.36" r="2.45" fill="none" stroke="#000" stroke-width="1.2"/>
<circle cx="291.24" cy="366.87" r="2.45" fill="none" stroke="#000" stroke-width="1.2"/>
<circle cx="309.28" cy="354.32" r="2.45" fill="none" stroke="#000" stroke-width="1.2"/>
<circle cx="309.35" cy="355.17" r="2.45" fill="none" stroke="#000" stroke-width="1.2"/>
<circle cx="308.94" cy="355.72" r="2.45" fill="none" stroke="#000" stroke-width="1.2"/>
<circle cx="309" cy="356.25" r="2.45" fill="none" stroke="#000" stroke-width="1.2"/>
<circle cx="310.05" cy="356.7" r="2.45" fill="none" stroke="#000" stroke-width="1.2"/>
<circle cx="312.07" cy="357.09" r="2.45" fill="none" stroke="#000" stroke-width="1.2"/>
<circle cx="333.02" cy="355.83" r="2.45" fill="none" stroke="#000" stroke-width="1.2"/>
<circle cx="334.81" cy="355.95" r="2.45" fill="none" stroke="#000" stroke-width="1.2"/>
<circle cx="336.72" cy="356.8" r="2.45" fill="none" stroke="#000" stroke-width="1.2"/>
<circle cx="333.22" cy="357.06" r="2.45" fill="none" stroke="#000" stroke-width="1.2"/>
<circle cx="333.31" cy="357.49" r="2.45" fill="none" stroke="#000" stroke-width="1.2"/>
<circle cx="335.26" cy="357.9" r="2.45" fill="none" stroke="#000" stroke-width="1.2"/>
<circle cx="355.25" cy="332.78" r="2.45" fill="none" stroke="#000" stroke-width="1.2"/>
<circle cx="353.15" cy="334.13" r="2.45" fill="none" stroke="#000" stroke-width="1.2"/>
<circle cx="354.07" cy="334.64" r="2.45" fill="none" stroke="#000" stroke-width="1.2"/>
<circle cx="354.85" cy="335.48" r="2.45" fill="none" stroke="#000" stroke-width="1.2"/>
<circle cx="354" cy="335.96" r="2.45" fill="none" stroke="#000" stroke-width="1.2"/>
<circle cx="355.37" cy="337.44" r="2.45" fill="none" stroke="#000" stroke-width="1.2"/>
<circle cx="380.44" cy="346.75" r="2.45" fill="none" stroke="#000" stroke-width="1.2"/>
<circle cx="377.96" cy="347.48" r="2.45" fill="none" stroke="#000" stroke-width="1.2"/>
<circle cx="379.29" cy="348.76" r="2.45" fill="none" stroke="#000" stroke-width="1.2"/>
<circle cx="376.99" cy="349.36" r="2.45" fill="none" stroke="#000" stroke-width="1.2"/>
<circle cx="377.99" cy="350.61" r="2.45" fill="none" stroke="#000" stroke-width="1.2"/>
<circle cx="379.77" cy="351.6" r="2.45" fill="none" stroke="#000" stroke-width="1.2"/>
<circle cx="396.34" cy="329.51" r="2.45" fill="none" stroke="#000" stroke-width="1.2"/>
<circle cx="397.95" cy="330.52" r="2.45" fill="none" stroke="#000" stroke-width="1.2"/>
<circle cx="397.12" cy="331.81" r="2.45" fill="none" stroke="#000" stroke-width="1.2"/>
<circle cx="397.78" cy="333.64" r="2.45" fill="none" stroke="#000" stroke-width="1.2"/>
<circle cx="396.64" cy="334.76" r="2.45" fill="none" stroke="#000" stroke-width="1.2"/>
<circle cx="396.94" cy="336.35" r="2.45" fill="none" stroke="#000" stroke-width="1.2"/>
<circle cx="420.44" cy="358.28" r="2.45" fill="none" stroke="#000" stroke-width="1.2"/>
<circle cx="421.67" cy="360.4" r="2.45" fill="none" stroke="#000" stroke-width="1.2"/>
<circle cx="420.5" cy="361.74" r="2.45" fill="none" stroke="#000" stroke-width="1.2"/>
<circle cx="421.13" cy="363.09" r="2.45" fill="none" stroke="#000" stroke-width="1.2"/>
<circle cx="422.2" cy="365.66" r="2.45" fill="none" stroke="#000" stroke-width="1.2"/>
<circle cx="422.22" cy="367.26" r="2.45" fill="none" stroke="#000" stroke-width="1.2"/>
<circle cx="440.66" cy="344.21" r="2.45" fill="none" stroke="#000" stroke-width="1.2"/>
<circle cx="441.45" cy="344.75" r="2.45" fill="none" stroke="#000" stroke-width="1.2"/>
<circle cx="442.98" cy="347.39" r="2.45" fill="none" stroke="#000" stroke-width="1.2"/>
<circle cx="440.02" cy="348.07" r="2.45" fill="none" stroke="#000" stroke-width="1.2"/>
<circle cx="443.07" cy="349.77" r="2.45" fill="none" stroke="#000" stroke-width="1.2"/>
<circle cx="440.96" cy="350.89" r="2.45" fill="none" stroke="#000" stroke-width="1.2"/>
<rect x="274.6" y="326.75" width="183.8" height="59.5" fill="none" stroke="#4f5860" stroke-width="0.7"/>
<line x1="300.86" x2="300.86" y1="386.25" y2="388.95" stroke="#333" stroke-width="0.75"/>
<text x="303.21" y="391.85" font-size="7" fill="#404040" text-anchor="end" textLength="35" lengthAdjust="spacingAndGlyphs" transform="rotate(-90 303.21 391.85)" stroke="#404040" stroke-width="0.18">Astrocytes</text>
<line x1="344.62" x2="344.62" y1="386.25" y2="388.95" stroke="#333" stroke-width="0.75"/>
<text x="346.97" y="391.85" font-size="7" fill="#404040" text-anchor="end" textLength="29.3" lengthAdjust="spacingAndGlyphs" transform="rotate(-90 346.97 391.85)" stroke="#404040" stroke-width="0.18">Microglia</text>
<line x1="388.38" x2="388.38" y1="386.25" y2="388.95" stroke="#333" stroke-width="0.75"/>
<text x="390.73" y="391.85" font-size="7" fill="#404040" text-anchor="end" textLength="27.6" lengthAdjust="spacingAndGlyphs" transform="rotate(-90 390.73 391.85)" stroke="#404040" stroke-width="0.18">Neurons</text>
<line x1="432.14" x2="432.14" y1="386.25" y2="388.95" stroke="#333" stroke-width="0.75"/>
<text x="434.49" y="391.85" font-size="7" fill="#404040" text-anchor="end" textLength="58" lengthAdjust="spacingAndGlyphs" transform="rotate(-90 434.49 391.85)" stroke="#404040" stroke-width="0.18">Oligodendrocytes</text>
<line x1="271.9" x2="274.6" y1="384.5" y2="384.5" stroke="#333" stroke-width="0.75"/>
<text x="270.5" y="386.95" font-size="7" fill="#404040" text-anchor="end" textLength="4.05" lengthAdjust="spacingAndGlyphs" stroke="#404040" stroke-width="0.18">0</text>
<line x1="271.9" x2="274.6" y1="372.25" y2="372.25" stroke="#333" stroke-width="0.75"/>
<text x="270.5" y="374.7" font-size="7" fill="#404040" text-anchor="end" textLength="8.9" lengthAdjust="spacingAndGlyphs" stroke="#404040" stroke-width="0.18">1K</text>
<line x1="271.9" x2="274.6" y1="360" y2="360" stroke="#333" stroke-width="0.75"/>
<text x="270.5" y="362.45" font-size="7" fill="#404040" text-anchor="end" textLength="8.9" lengthAdjust="spacingAndGlyphs" stroke="#404040" stroke-width="0.18">2K</text>
<line x1="271.9" x2="274.6" y1="347.75" y2="347.75" stroke="#333" stroke-width="0.75"/>
<text x="270.5" y="350.2" font-size="7" fill="#404040" text-anchor="end" textLength="8.9" lengthAdjust="spacingAndGlyphs" stroke="#404040" stroke-width="0.18">3K</text>
<line x1="271.9" x2="274.6" y1="335.5" y2="335.5" stroke="#333" stroke-width="0.75"/>
<text x="270.5" y="337.95" font-size="7" fill="#404040" text-anchor="end" textLength="8.9" lengthAdjust="spacingAndGlyphs" stroke="#404040" stroke-width="0.18">4K</text>
<text x="252.05" y="356.5" font-size="9.6" fill="#3a3a3a" text-anchor="middle" textLength="59.5" lengthAdjust="spacingAndGlyphs" transform="rotate(-90 252.05 356.5)">Peptidegroups</text>
<rect x="508.23" y="367.8" width="13.11" height="16.7" fill="#ee7318"/>
<rect x="521.29" y="360.3" width="13.11" height="24.2" fill="#5cbf22"/>
<rect x="534.34" y="361.3" width="13.11" height="23.2" fill="#1ba0da"/>
<rect x="551.75" y="355.3" width="13.11" height="29.2" fill="#ee7318"/>
<rect x="564.81" y="345.2" width="13.11" height="39.3" fill="#5cbf22"/>
<rect x="577.87" y="334.7" width="13.11" height="49.8" fill="#1ba0da"/>
<rect x="595.28" y="354.8" width="13.11" height="29.7" fill="#ee7318"/>
<rect x="608.33" y="345.8" width="13.11" height="38.7" fill="#5cbf22"/>
<rect x="621.39" y="343.2" width="13.11" height="41.3" fill="#1ba0da"/>
<rect x="638.8" y="357.3" width="13.11" height="27.2" fill="#ee7318"/>
<rect x="651.86" y="349.3" width="13.11" height="35.2" fill="#5cbf22"/>
<rect x="664.91" y="348.8" width="13.11" height="35.7" fill="#1ba0da"/>
<circle cx="513.79" cy="366.47" r="2.45" fill="none" stroke="#000" stroke-width="1.2"/>
<circle cx="515.49" cy="366.93" r="2.45" fill="none" stroke="#000" stroke-width="1.2"/>
<circle cx="513.5" cy="367.1" r="2.45" fill="none" stroke="#000" stroke-width="1.2"/>
<circle cx="513.35" cy="367.5" r="2.45" fill="none" stroke="#000" stroke-width="1.2"/>
<circle cx="515.69" cy="367.87" r="2.45" fill="none" stroke="#000" stroke-width="1.2"/>
<circle cx="514.88" cy="368.3" r="2.45" fill="none" stroke="#000" stroke-width="1.2"/>
<circle cx="526.99" cy="358.36" r="2.45" fill="none" stroke="#000" stroke-width="1.2"/>
<circle cx="529.16" cy="359.06" r="2.45" fill="none" stroke="#000" stroke-width="1.2"/>
<circle cx="525.87" cy="359.48" r="2.45" fill="none" stroke="#000" stroke-width="1.2"/>
<circle cx="526.4" cy="360.4" r="2.45" fill="none" stroke="#000" stroke-width="1.2"/>
<circle cx="529.05" cy="360.97" r="2.45" fill="none" stroke="#000" stroke-width="1.2"/>
<circle cx="529.12" cy="361.53" r="2.45" fill="none" stroke="#000" stroke-width="1.2"/>
<circle cx="542.67" cy="358.66" r="2.45" fill="none" stroke="#000" stroke-width="1.2"/>
<circle cx="539.9" cy="359.71" r="2.45" fill="none" stroke="#000" stroke-width="1.2"/>
<circle cx="540.82" cy="360.63" r="2.45" fill="none" stroke="#000" stroke-width="1.2"/>
<circle cx="541.13" cy="361.34" r="2.45" fill="none" stroke="#000" stroke-width="1.2"/>
<circle cx="540.33" cy="362.34" r="2.45" fill="none" stroke="#000" stroke-width="1.2"/>
<circle cx="540.13" cy="363.06" r="2.45" fill="none" stroke="#000" stroke-width="1.2"/>
<circle cx="559.56" cy="352.49" r="2.45" fill="none" stroke="#000" stroke-width="1.2"/>
<circle cx="560.22" cy="353.47" r="2.45" fill="none" stroke="#000" stroke-width="1.2"/>
<circle cx="558.5" cy="354.6" r="2.45" fill="none" stroke="#000" stroke-width="1.2"/>
<circle cx="556.82" cy="355.61" r="2.45" fill="none" stroke="#000" stroke-width="1.2"/>
<circle cx="558.05" cy="356.21" r="2.45" fill="none" stroke="#000" stroke-width="1.2"/>
<circle cx="557.09" cy="357.62" r="2.45" fill="none" stroke="#000" stroke-width="1.2"/>
<circle cx="570.35" cy="342.77" r="2.45" fill="none" stroke="#000" stroke-width="1.2"/>
<circle cx="571.76" cy="343.52" r="2.45" fill="none" stroke="#000" stroke-width="1.2"/>
<circle cx="569.86" cy="344.39" r="2.45" fill="none" stroke="#000" stroke-width="1.2"/>
<circle cx="570.28" cy="345.01" r="2.45" fill="none" stroke="#000" stroke-width="1.2"/>
<circle cx="570.12" cy="345.9" r="2.45" fill="none" stroke="#000" stroke-width="1.2"/>
<circle cx="569.63" cy="346.91" r="2.45" fill="none" stroke="#000" stroke-width="1.2"/>
<circle cx="586.21" cy="329.83" r="2.45" fill="none" stroke="#000" stroke-width="1.2"/>
<circle cx="585.27" cy="332.39" r="2.45" fill="none" stroke="#000" stroke-width="1.2"/>
<circle cx="582.57" cy="332.89" r="2.45" fill="none" stroke="#000" stroke-width="1.2"/>
<circle cx="585.62" cy="335.68" r="2.45" fill="none" stroke="#000" stroke-width="1.2"/>
<circle cx="584.95" cy="336.35" r="2.45" fill="none" stroke="#000" stroke-width="1.2"/>
<circle cx="584.05" cy="339.17" r="2.45" fill="none" stroke="#000" stroke-width="1.2"/>
<circle cx="603.35" cy="351.46" r="2.45" fill="none" stroke="#000" stroke-width="1.2"/>
<circle cx="600.62" cy="352.84" r="2.45" fill="none" stroke="#000" stroke-width="1.2"/>
<circle cx="601.3" cy="354" r="2.45" fill="none" stroke="#000" stroke-width="1.2"/>
<circle cx="600.35" cy="355.62" r="2.45" fill="none" stroke="#000" stroke-width="1.2"/>
<circle cx="602.22" cy="356.64" r="2.45" fill="none" stroke="#000" stroke-width="1.2"/>
<circle cx="600.65" cy="357.84" r="2.45" fill="none" stroke="#000" stroke-width="1.2"/>
<circle cx="615.19" cy="340.18" r="2.45" fill="none" stroke="#000" stroke-width="1.2"/>
<circle cx="614.3" cy="342.6" r="2.45" fill="none" stroke="#000" stroke-width="1.2"/>
<circle cx="614.23" cy="343.92" r="2.45" fill="none" stroke="#000" stroke-width="1.2"/>
<circle cx="613.52" cy="346.84" r="2.45" fill="none" stroke="#000" stroke-width="1.2"/>
<circle cx="613.31" cy="348.11" r="2.45" fill="none" stroke="#000" stroke-width="1.2"/>
<circle cx="613.14" cy="351.08" r="2.45" fill="none" stroke="#000" stroke-width="1.2"/>
<circle cx="628.14" cy="336.4" r="2.45" fill="none" stroke="#000" stroke-width="1.2"/>
<circle cx="626.07" cy="338.76" r="2.45" fill="none" stroke="#000" stroke-width="1.2"/>
<circle cx="627.29" cy="340.55" r="2.45" fill="none" stroke="#000" stroke-width="1.2"/>
<circle cx="625.93" cy="345.27" r="2.45" fill="none" stroke="#000" stroke-width="1.2"/>
<circle cx="626.41" cy="346.24" r="2.45" fill="none" stroke="#000" stroke-width="1.2"/>
<circle cx="626.99" cy="349.53" r="2.45" fill="none" stroke="#000" stroke-width="1.2"/>
<circle cx="643.64" cy="352.15" r="2.45" fill="none" stroke="#000" stroke-width="1.2"/>
<circle cx="644.8" cy="354.65" r="2.45" fill="none" stroke="#000" stroke-width="1.2"/>
<circle cx="643.35" cy="355.68" r="2.45" fill="none" stroke="#000" stroke-width="1.2"/>
<circle cx="645.31" cy="358.63" r="2.45" fill="none" stroke="#000" stroke-width="1.2"/>
<circle cx="645.4" cy="359.68" r="2.45" fill="none" stroke="#000" stroke-width="1.2"/>
<circle cx="646.01" cy="361.26" r="2.45" fill="none" stroke="#000" stroke-width="1.2"/>
<circle cx="656.51" cy="345.1" r="2.45" fill="none" stroke="#000" stroke-width="1.2"/>
<circle cx="660.03" cy="346.95" r="2.45" fill="none" stroke="#000" stroke-width="1.2"/>
<circle cx="657.42" cy="348.39" r="2.45" fill="none" stroke="#000" stroke-width="1.2"/>
<circle cx="659.78" cy="349.33" r="2.45" fill="none" stroke="#000" stroke-width="1.2"/>
<circle cx="658.74" cy="350.98" r="2.45" fill="none" stroke="#000" stroke-width="1.2"/>
<circle cx="657.36" cy="352.41" r="2.45" fill="none" stroke="#000" stroke-width="1.2"/>
<circle cx="670.26" cy="342.71" r="2.45" fill="none" stroke="#000" stroke-width="1.2"/>
<circle cx="669.6" cy="344.96" r="2.45" fill="none" stroke="#000" stroke-width="1.2"/>
<circle cx="669.79" cy="347.82" r="2.45" fill="none" stroke="#000" stroke-width="1.2"/>
<circle cx="671.84" cy="348.52" r="2.45" fill="none" stroke="#000" stroke-width="1.2"/>
<circle cx="672.54" cy="351.04" r="2.45" fill="none" stroke="#000" stroke-width="1.2"/>
<circle cx="671.37" cy="353.91" r="2.45" fill="none" stroke="#000" stroke-width="1.2"/>
<rect x="501.7" y="326.75" width="182.8" height="59.5" fill="none" stroke="#4f5860" stroke-width="0.7"/>
<line x1="527.81" x2="527.81" y1="386.25" y2="388.95" stroke="#333" stroke-width="0.75"/>
<text x="530.16" y="391.85" font-size="7" fill="#404040" text-anchor="end" textLength="35" lengthAdjust="spacingAndGlyphs" transform="rotate(-90 530.16 391.85)" stroke="#404040" stroke-width="0.18">Astrocytes</text>
<line x1="571.34" x2="571.34" y1="386.25" y2="388.95" stroke="#333" stroke-width="0.75"/>
<text x="573.69" y="391.85" font-size="7" fill="#404040" text-anchor="end" textLength="29.3" lengthAdjust="spacingAndGlyphs" transform="rotate(-90 573.69 391.85)" stroke="#404040" stroke-width="0.18">Microglia</text>
<line x1="614.86" x2="614.86" y1="386.25" y2="388.95" stroke="#333" stroke-width="0.75"/>
<text x="617.21" y="391.85" font-size="7" fill="#404040" text-anchor="end" textLength="27.6" lengthAdjust="spacingAndGlyphs" transform="rotate(-90 617.21 391.85)" stroke="#404040" stroke-width="0.18">Neurons</text>
<line x1="658.39" x2="658.39" y1="386.25" y2="388.95" stroke="#333" stroke-width="0.75"/>
<text x="660.74" y="391.85" font-size="7" fill="#404040" text-anchor="end" textLength="58" lengthAdjust="spacingAndGlyphs" transform="rotate(-90 660.74 391.85)" stroke="#404040" stroke-width="0.18">Oligodendrocytes</text>
<line x1="499" x2="501.7" y1="384.5" y2="384.5" stroke="#333" stroke-width="0.75"/>
<text x="497.6" y="386.95" font-size="7" fill="#404040" text-anchor="end" textLength="4.05" lengthAdjust="spacingAndGlyphs" stroke="#404040" stroke-width="0.18">0</text>
<line x1="499" x2="501.7" y1="369.5" y2="369.5" stroke="#333" stroke-width="0.75"/>
<text x="497.6" y="371.95" font-size="7" fill="#404040" text-anchor="end" textLength="12.15" lengthAdjust="spacingAndGlyphs" stroke="#404040" stroke-width="0.18">250</text>
<line x1="499" x2="501.7" y1="354.5" y2="354.5" stroke="#333" stroke-width="0.75"/>
<text x="497.6" y="356.95" font-size="7" fill="#404040" text-anchor="end" textLength="12.15" lengthAdjust="spacingAndGlyphs" stroke="#404040" stroke-width="0.18">500</text>
<line x1="499" x2="501.7" y1="339.5" y2="339.5" stroke="#333" stroke-width="0.75"/>
<text x="497.6" y="341.95" font-size="7" fill="#404040" text-anchor="end" textLength="12.15" lengthAdjust="spacingAndGlyphs" stroke="#404040" stroke-width="0.18">750</text>
<text x="474.3" y="356.5" font-size="9.6" fill="#3a3a3a" text-anchor="middle" textLength="33" lengthAdjust="spacingAndGlyphs" transform="rotate(-90 474.3 356.5)">Proteins</text>
<rect x="445" y="297.5" width="9.6" height="9.6" fill="#ee7318"/>
<rect x="503.5" y="297.5" width="9.6" height="9.6" fill="#5cbf22"/>
<rect x="560.9" y="297.5" width="9.6" height="9.6" fill="#1ba0da"/>
<text x="460.75" y="304.8" font-size="7" fill="#2a2a2a" text-anchor="start" textLength="36.7" lengthAdjust="spacingAndGlyphs">Sequest HT</text>
<text x="519.3" y="304.8" font-size="7" fill="#2a2a2a" text-anchor="start" textLength="35.1" lengthAdjust="spacingAndGlyphs">MSFragger</text>
<text x="576.3" y="304.8" font-size="7" fill="#2a2a2a" text-anchor="start" textLength="32.7" lengthAdjust="spacingAndGlyphs">CHIMERYS</text>
<rect x="55.86" y="550.5" width="21.97" height="19.25" fill="#ee7318"/>
<rect x="80.27" y="542.5" width="21.97" height="27.25" fill="#5cbf22"/>
<rect x="104.67" y="514.25" width="21.97" height="55.5" fill="#1ba0da"/>
<circle cx="66.84" cy="550.5" r="2.45" fill="none" stroke="#000" stroke-width="1.2"/>
<circle cx="91.25" cy="542.5" r="2.45" fill="none" stroke="#000" stroke-width="1.2"/>
<circle cx="115.66" cy="514.25" r="2.45" fill="none" stroke="#000" stroke-width="1.2"/>
<rect x="52.2" y="511.5" width="78.1" height="60.25" fill="none" stroke="#4f5860" stroke-width="0.7"/>
<line x1="66.84" x2="66.84" y1="571.75" y2="574.45" stroke="#333" stroke-width="0.75"/>
<text x="69.19" y="577.35" font-size="7" fill="#404040" text-anchor="end" textLength="36.2" lengthAdjust="spacingAndGlyphs" transform="rotate(-90 69.19 577.35)" stroke="#404040" stroke-width="0.18">Sequest HT</text>
<line x1="91.25" x2="91.25" y1="571.75" y2="574.45" stroke="#333" stroke-width="0.75"/>
<text x="93.6" y="577.35" font-size="7" fill="#404040" text-anchor="end" textLength="35.3" lengthAdjust="spacingAndGlyphs" transform="rotate(-90 93.6 577.35)" stroke="#404040" stroke-width="0.18">MSFragger</text>
<line x1="115.66" x2="115.66" y1="571.75" y2="574.45" stroke="#333" stroke-width="0.75"/>
<text x="118.01" y="577.35" font-size="7" fill="#404040" text-anchor="end" textLength="32.2" lengthAdjust="spacingAndGlyphs" transform="rotate(-90 118.01 577.35)" stroke="#404040" stroke-width="0.18">CHIMERYS</text>
<rect x="52.2" y="495.5" width="78.1" height="16" fill="#d9d9d9" stroke="#3d3d3d" stroke-width="0.7"/>
<text x="91.25" y="506.05" font-size="7.4" fill="#1f1f1f" text-anchor="middle" textLength="48" lengthAdjust="spacingAndGlyphs" stroke="#1f1f1f" stroke-width="0.12">Halobacterium</text>
<line x1="49.5" x2="52.2" y1="569.75" y2="569.75" stroke="#333" stroke-width="0.75"/>
<text x="48.1" y="572.2" font-size="7" fill="#404040" text-anchor="end" textLength="4.05" lengthAdjust="spacingAndGlyphs" stroke="#404040" stroke-width="0.18">0</text>
<line x1="49.5" x2="52.2" y1="555.5" y2="555.5" stroke="#333" stroke-width="0.75"/>
<text x="48.1" y="557.95" font-size="7" fill="#404040" text-anchor="end" textLength="12.95" lengthAdjust="spacingAndGlyphs" stroke="#404040" stroke-width="0.18">20K</text>
<line x1="49.5" x2="52.2" y1="541.5" y2="541.5" stroke="#333" stroke-width="0.75"/>
<text x="48.1" y="543.95" font-size="7" fill="#404040" text-anchor="end" textLength="12.95" lengthAdjust="spacingAndGlyphs" stroke="#404040" stroke-width="0.18">40K</text>
<line x1="49.5" x2="52.2" y1="527.5" y2="527.5" stroke="#333" stroke-width="0.75"/>
<text x="48.1" y="529.95" font-size="7" fill="#404040" text-anchor="end" textLength="12.95" lengthAdjust="spacingAndGlyphs" stroke="#404040" stroke-width="0.18">60K</text>
<line x1="49.5" x2="52.2" y1="513.25" y2="513.25" stroke="#333" stroke-width="0.75"/>
<text x="48.1" y="515.7" font-size="7" fill="#404040" text-anchor="end" textLength="12.95" lengthAdjust="spacingAndGlyphs" stroke="#404040" stroke-width="0.18">80K</text>
<text x="13.55" y="541.62" font-size="9.6" fill="#3a3a3a" text-anchor="middle" textLength="21.1" lengthAdjust="spacingAndGlyphs" transform="rotate(-90 13.55 541.62)">PSMs</text>
<rect x="159.82" y="553" width="21.74" height="16.75" fill="#ee7318"/>
<rect x="183.98" y="546" width="21.74" height="23.75" fill="#5cbf22"/>
<rect x="208.14" y="514.25" width="21.74" height="55.5" fill="#1ba0da"/>
<circle cx="170.69" cy="553" r="2.45" fill="none" stroke="#000" stroke-width="1.2"/>
<circle cx="194.85" cy="546" r="2.45" fill="none" stroke="#000" stroke-width="1.2"/>
<circle cx="219.01" cy="514.25" r="2.45" fill="none" stroke="#000" stroke-width="1.2"/>
<rect x="156.2" y="511.5" width="77.3" height="60.25" fill="none" stroke="#4f5860" stroke-width="0.7"/>
<line x1="170.69" x2="170.69" y1="571.75" y2="574.45" stroke="#333" stroke-width="0.75"/>
<text x="173.04" y="577.35" font-size="7" fill="#404040" text-anchor="end" textLength="36.2" lengthAdjust="spacingAndGlyphs" transform="rotate(-90 173.04 577.35)" stroke="#404040" stroke-width="0.18">Sequest HT</text>
<line x1="194.85" x2="194.85" y1="571.75" y2="574.45" stroke="#333" stroke-width="0.75"/>
<text x="197.2" y="577.35" font-size="7" fill="#404040" text-anchor="end" textLength="35.3" lengthAdjust="spacingAndGlyphs" transform="rotate(-90 197.2 577.35)" stroke="#404040" stroke-width="0.18">MSFragger</text>
<line x1="219.01" x2="219.01" y1="571.75" y2="574.45" stroke="#333" stroke-width="0.75"/>
<text x="221.36" y="577.35" font-size="7" fill="#404040" text-anchor="end" textLength="32.2" lengthAdjust="spacingAndGlyphs" transform="rotate(-90 221.36 577.35)" stroke="#404040" stroke-width="0.18">CHIMERYS</text>
<rect x="156.2" y="495.5" width="77.3" height="16" fill="#d9d9d9" stroke="#3d3d3d" stroke-width="0.7"/>
<text x="194.85" y="506.05" font-size="7.4" fill="#1f1f1f" text-anchor="middle" textLength="37" lengthAdjust="spacingAndGlyphs" stroke="#1f1f1f" stroke-width="0.12">Arabidopsis</text>
<line x1="153.5" x2="156.2" y1="569.75" y2="569.75" stroke="#333" stroke-width="0.75"/>
<text x="152.1" y="572.2" font-size="7" fill="#404040" text-anchor="end" textLength="4.05" lengthAdjust="spacingAndGlyphs" stroke="#404040" stroke-width="0.18">0</text>
<line x1="153.5" x2="156.2" y1="554.5" y2="554.5" stroke="#333" stroke-width="0.75"/>
<text x="152.1" y="556.95" font-size="7" fill="#404040" text-anchor="end" textLength="17" lengthAdjust="spacingAndGlyphs" stroke="#404040" stroke-width="0.18">200K</text>
<line x1="153.5" x2="156.2" y1="539.25" y2="539.25" stroke="#333" stroke-width="0.75"/>
<text x="152.1" y="541.7" font-size="7" fill="#404040" text-anchor="end" textLength="17" lengthAdjust="spacingAndGlyphs" stroke="#404040" stroke-width="0.18">400K</text>
<line x1="153.5" x2="156.2" y1="523.75" y2="523.75" stroke="#333" stroke-width="0.75"/>
<text x="152.1" y="526.2" font-size="7" fill="#404040" text-anchor="end" textLength="17" lengthAdjust="spacingAndGlyphs" stroke="#404040" stroke-width="0.18">600K</text>
<rect x="282.05" y="529.25" width="31.81" height="40.5" fill="#ee7318"/>
<rect x="317.39" y="514.25" width="31.81" height="55.5" fill="#1ba0da"/>
<circle cx="297.95" cy="529.25" r="2.45" fill="none" stroke="#000" stroke-width="1.2"/>
<circle cx="333.3" cy="514.25" r="2.45" fill="none" stroke="#000" stroke-width="1.2"/>
<rect x="276.75" y="511.5" width="77.75" height="60.25" fill="none" stroke="#4f5860" stroke-width="0.7"/>
<line x1="297.95" x2="297.95" y1="571.75" y2="574.45" stroke="#333" stroke-width="0.75"/>
<text x="300.3" y="577.35" font-size="7" fill="#404040" text-anchor="end" textLength="36.2" lengthAdjust="spacingAndGlyphs" transform="rotate(-90 300.3 577.35)" stroke="#404040" stroke-width="0.18">Sequest HT</text>
<line x1="333.3" x2="333.3" y1="571.75" y2="574.45" stroke="#333" stroke-width="0.75"/>
<text x="335.65" y="577.35" font-size="7" fill="#404040" text-anchor="end" textLength="32.2" lengthAdjust="spacingAndGlyphs" transform="rotate(-90 335.65 577.35)" stroke="#404040" stroke-width="0.18">CHIMERYS</text>
<rect x="276.75" y="495.5" width="77.75" height="16" fill="#d9d9d9" stroke="#3d3d3d" stroke-width="0.7"/>
<text x="315.62" y="506.05" font-size="7.4" fill="#1f1f1f" text-anchor="middle" textLength="48" lengthAdjust="spacingAndGlyphs" stroke="#1f1f1f" stroke-width="0.12">Halobacterium</text>
<line x1="274.05" x2="276.75" y1="569.75" y2="569.75" stroke="#333" stroke-width="0.75"/>
<text x="272.65" y="572.2" font-size="7" fill="#404040" text-anchor="end" textLength="4.05" lengthAdjust="spacingAndGlyphs" stroke="#404040" stroke-width="0.18">0</text>
<line x1="274.05" x2="276.75" y1="554" y2="554" stroke="#333" stroke-width="0.75"/>
<text x="272.65" y="556.45" font-size="7" fill="#404040" text-anchor="end" textLength="8.9" lengthAdjust="spacingAndGlyphs" stroke="#404040" stroke-width="0.18">5K</text>
<line x1="274.05" x2="276.75" y1="538.5" y2="538.5" stroke="#333" stroke-width="0.75"/>
<text x="272.65" y="540.95" font-size="7" fill="#404040" text-anchor="end" textLength="12.95" lengthAdjust="spacingAndGlyphs" stroke="#404040" stroke-width="0.18">10K</text>
<line x1="274.05" x2="276.75" y1="522.75" y2="522.75" stroke="#333" stroke-width="0.75"/>
<text x="272.65" y="525.2" font-size="7" fill="#404040" text-anchor="end" textLength="12.95" lengthAdjust="spacingAndGlyphs" stroke="#404040" stroke-width="0.18">15K</text>
<text x="250.05" y="541.62" font-size="9.6" fill="#3a3a3a" text-anchor="middle" textLength="59.5" lengthAdjust="spacingAndGlyphs" transform="rotate(-90 250.05 541.62)">Peptidegroups</text>
<rect x="385.82" y="531" width="31.91" height="38.75" fill="#ee7318"/>
<rect x="421.27" y="514.25" width="31.91" height="55.5" fill="#1ba0da"/>
<circle cx="401.77" cy="531" r="2.45" fill="none" stroke="#000" stroke-width="1.2"/>
<circle cx="437.23" cy="514.25" r="2.45" fill="none" stroke="#000" stroke-width="1.2"/>
<rect x="380.5" y="511.5" width="78" height="60.25" fill="none" stroke="#4f5860" stroke-width="0.7"/>
<line x1="401.77" x2="401.77" y1="571.75" y2="574.45" stroke="#333" stroke-width="0.75"/>
<text x="404.12" y="577.35" font-size="7" fill="#404040" text-anchor="end" textLength="36.2" lengthAdjust="spacingAndGlyphs" transform="rotate(-90 404.12 577.35)" stroke="#404040" stroke-width="0.18">Sequest HT</text>
<line x1="437.23" x2="437.23" y1="571.75" y2="574.45" stroke="#333" stroke-width="0.75"/>
<text x="439.58" y="577.35" font-size="7" fill="#404040" text-anchor="end" textLength="32.2" lengthAdjust="spacingAndGlyphs" transform="rotate(-90 439.58 577.35)" stroke="#404040" stroke-width="0.18">CHIMERYS</text>
<rect x="380.5" y="495.5" width="78" height="16" fill="#d9d9d9" stroke="#3d3d3d" stroke-width="0.7"/>
<text x="419.5" y="506.05" font-size="7.4" fill="#1f1f1f" text-anchor="middle" textLength="37" lengthAdjust="spacingAndGlyphs" stroke="#1f1f1f" stroke-width="0.12">Arabidopsis</text>
<line x1="377.8" x2="380.5" y1="569.75" y2="569.75" stroke="#333" stroke-width="0.75"/>
<text x="376.4" y="572.2" font-size="7" fill="#404040" text-anchor="end" textLength="4.05" lengthAdjust="spacingAndGlyphs" stroke="#404040" stroke-width="0.18">0</text>
<line x1="377.8" x2="380.5" y1="558" y2="558" stroke="#333" stroke-width="0.75"/>
<text x="376.4" y="560.45" font-size="7" fill="#404040" text-anchor="end" textLength="12.95" lengthAdjust="spacingAndGlyphs" stroke="#404040" stroke-width="0.18">25K</text>
<line x1="377.8" x2="380.5" y1="546.5" y2="546.5" stroke="#333" stroke-width="0.75"/>
<text x="376.4" y="548.95" font-size="7" fill="#404040" text-anchor="end" textLength="12.95" lengthAdjust="spacingAndGlyphs" stroke="#404040" stroke-width="0.18">50K</text>
<line x1="377.8" x2="380.5" y1="535" y2="535" stroke="#333" stroke-width="0.75"/>
<text x="376.4" y="537.45" font-size="7" fill="#404040" text-anchor="end" textLength="12.95" lengthAdjust="spacingAndGlyphs" stroke="#404040" stroke-width="0.18">75K</text>
<line x1="377.8" x2="380.5" y1="523.25" y2="523.25" stroke="#333" stroke-width="0.75"/>
<text x="376.4" y="525.7" font-size="7" fill="#404040" text-anchor="end" textLength="17" lengthAdjust="spacingAndGlyphs" stroke="#404040" stroke-width="0.18">100K</text>
<line x1="377.8" x2="380.5" y1="512" y2="512" stroke="#333" stroke-width="0.75"/>
<text x="376.4" y="514.45" font-size="7" fill="#404040" text-anchor="end" textLength="17" lengthAdjust="spacingAndGlyphs" stroke="#404040" stroke-width="0.18">125K</text>
<rect x="507.19" y="524" width="22.16" height="45.75" fill="#ee7318"/>
<rect x="531.82" y="517.3" width="22.16" height="52.45" fill="#5cbf22"/>
<rect x="556.44" y="514.3" width="22.16" height="55.45" fill="#1ba0da"/>
<circle cx="518.27" cy="524" r="2.45" fill="none" stroke="#000" stroke-width="1.2"/>
<circle cx="542.9" cy="517.3" r="2.45" fill="none" stroke="#000" stroke-width="1.2"/>
<circle cx="567.52" cy="514.3" r="2.45" fill="none" stroke="#000" stroke-width="1.2"/>
<rect x="503.5" y="511.5" width="78.8" height="60.25" fill="none" stroke="#4f5860" stroke-width="0.7"/>
<line x1="518.27" x2="518.27" y1="571.75" y2="574.45" stroke="#333" stroke-width="0.75"/>
<text x="520.62" y="577.35" font-size="7" fill="#404040" text-anchor="end" textLength="36.2" lengthAdjust="spacingAndGlyphs" transform="rotate(-90 520.62 577.35)" stroke="#404040" stroke-width="0.18">Sequest HT</text>
<line x1="542.9" x2="542.9" y1="571.75" y2="574.45" stroke="#333" stroke-width="0.75"/>
<text x="545.25" y="577.35" font-size="7" fill="#404040" text-anchor="end" textLength="35.3" lengthAdjust="spacingAndGlyphs" transform="rotate(-90 545.25 577.35)" stroke="#404040" stroke-width="0.18">MSFragger</text>
<line x1="567.52" x2="567.52" y1="571.75" y2="574.45" stroke="#333" stroke-width="0.75"/>
<text x="569.88" y="577.35" font-size="7" fill="#404040" text-anchor="end" textLength="32.2" lengthAdjust="spacingAndGlyphs" transform="rotate(-90 569.88 577.35)" stroke="#404040" stroke-width="0.18">CHIMERYS</text>
<rect x="503.5" y="495.5" width="78.8" height="16" fill="#d9d9d9" stroke="#3d3d3d" stroke-width="0.7"/>
<text x="542.9" y="506.05" font-size="7.4" fill="#1f1f1f" text-anchor="middle" textLength="48" lengthAdjust="spacingAndGlyphs" stroke="#1f1f1f" stroke-width="0.12">Halobacterium</text>
<line x1="500.8" x2="503.5" y1="569.75" y2="569.75" stroke="#333" stroke-width="0.75"/>
<text x="499.4" y="572.2" font-size="7" fill="#404040" text-anchor="end" textLength="4.05" lengthAdjust="spacingAndGlyphs" stroke="#404040" stroke-width="0.18">0</text>
<line x1="500.8" x2="503.5" y1="556.5" y2="556.5" stroke="#333" stroke-width="0.75"/>
<text x="499.4" y="558.95" font-size="7" fill="#404040" text-anchor="end" textLength="12.15" lengthAdjust="spacingAndGlyphs" stroke="#404040" stroke-width="0.18">500</text>
<line x1="500.8" x2="503.5" y1="543.5" y2="543.5" stroke="#333" stroke-width="0.75"/>
<text x="499.4" y="545.95" font-size="7" fill="#404040" text-anchor="end" textLength="14.98" lengthAdjust="spacingAndGlyphs" stroke="#404040" stroke-width="0.18">1.0K</text>
<line x1="500.8" x2="503.5" y1="530.5" y2="530.5" stroke="#333" stroke-width="0.75"/>
<text x="499.4" y="532.95" font-size="7" fill="#404040" text-anchor="end" textLength="14.98" lengthAdjust="spacingAndGlyphs" stroke="#404040" stroke-width="0.18">1.5K</text>
<line x1="500.8" x2="503.5" y1="517.75" y2="517.75" stroke="#333" stroke-width="0.75"/>
<text x="499.4" y="520.2" font-size="7" fill="#404040" text-anchor="end" textLength="14.98" lengthAdjust="spacingAndGlyphs" stroke="#404040" stroke-width="0.18">2.0K</text>
<text x="474.3" y="541.62" font-size="9.6" fill="#3a3a3a" text-anchor="middle" textLength="33" lengthAdjust="spacingAndGlyphs" transform="rotate(-90 474.3 541.62)">Proteins</text>
<rect x="608.44" y="520.8" width="22.44" height="48.95" fill="#ee7318"/>
<rect x="633.38" y="515.1" width="22.44" height="54.65" fill="#5cbf22"/>
<rect x="658.32" y="514.3" width="22.44" height="55.45" fill="#1ba0da"/>
<circle cx="619.66" cy="520.8" r="2.45" fill="none" stroke="#000" stroke-width="1.2"/>
<circle cx="644.6" cy="515.1" r="2.45" fill="none" stroke="#000" stroke-width="1.2"/>
<circle cx="669.54" cy="514.3" r="2.45" fill="none" stroke="#000" stroke-width="1.2"/>
<rect x="604.7" y="511.5" width="79.8" height="60.25" fill="none" stroke="#4f5860" stroke-width="0.7"/>
<line x1="619.66" x2="619.66" y1="571.75" y2="574.45" stroke="#333" stroke-width="0.75"/>
<text x="622.01" y="577.35" font-size="7" fill="#404040" text-anchor="end" textLength="36.2" lengthAdjust="spacingAndGlyphs" transform="rotate(-90 622.01 577.35)" stroke="#404040" stroke-width="0.18">Sequest HT</text>
<line x1="644.6" x2="644.6" y1="571.75" y2="574.45" stroke="#333" stroke-width="0.75"/>
<text x="646.95" y="577.35" font-size="7" fill="#404040" text-anchor="end" textLength="35.3" lengthAdjust="spacingAndGlyphs" transform="rotate(-90 646.95 577.35)" stroke="#404040" stroke-width="0.18">MSFragger</text>
<line x1="669.54" x2="669.54" y1="571.75" y2="574.45" stroke="#333" stroke-width="0.75"/>
<text x="671.89" y="577.35" font-size="7" fill="#404040" text-anchor="end" textLength="32.2" lengthAdjust="spacingAndGlyphs" transform="rotate(-90 671.89 577.35)" stroke="#404040" stroke-width="0.18">CHIMERYS</text>
<rect x="604.7" y="495.5" width="79.8" height="16" fill="#d9d9d9" stroke="#3d3d3d" stroke-width="0.7"/>
<text x="644.6" y="506.05" font-size="7.4" fill="#1f1f1f" text-anchor="middle" textLength="37" lengthAdjust="spacingAndGlyphs" stroke="#1f1f1f" stroke-width="0.12">Arabidopsis</text>
<line x1="602" x2="604.7" y1="569.6" y2="569.6" stroke="#333" stroke-width="0.75"/>
<text x="600.6" y="572.05" font-size="7" fill="#404040" text-anchor="end" textLength="4.05" lengthAdjust="spacingAndGlyphs" stroke="#404040" stroke-width="0.18">0</text>
<line x1="602" x2="604.7" y1="548.7" y2="548.7" stroke="#333" stroke-width="0.75"/>
<text x="600.6" y="551.15" font-size="7" fill="#404040" text-anchor="end" textLength="8.9" lengthAdjust="spacingAndGlyphs" stroke="#404040" stroke-width="0.18">5K</text>
<line x1="602" x2="604.7" y1="527.6" y2="527.6" stroke="#333" stroke-width="0.75"/>
<text x="600.6" y="530.05" font-size="7" fill="#404040" text-anchor="end" textLength="12.95" lengthAdjust="spacingAndGlyphs" stroke="#404040" stroke-width="0.18">10K</text>
<defs><pattern id="h" width="4.9" height="4.9" patternUnits="userSpaceOnUse" patternTransform="rotate(-45)"><line x1="-1" x2="7" y1="2.5" y2="2.5" stroke="#000" stroke-width="1.3"/></pattern><pattern id="hk" width="3.7" height="3.7" patternUnits="userSpaceOnUse" patternTransform="rotate(-45)"><line x1="-1" x2="7" y1="1.2" y2="1.2" stroke="#111" stroke-width="1.45"/></pattern></defs>
<rect x="55.44" y="700.25" width="19.43" height="34" fill="#ee7318"/>
<rect x="55.44" y="700.25" width="19.43" height="4.25" fill="url(#h)"/>
<rect x="55.44" y="700.25" width="19.43" height="4.25" fill="none" stroke="#222" stroke-width="0.35"/>
<rect x="55.44" y="704.5" width="19.43" height="29.75" fill="none" stroke="#222" stroke-width="0.35"/>
<rect x="77.03" y="693.5" width="19.43" height="40.75" fill="#5cbf22"/>
<rect x="77.03" y="693.5" width="19.43" height="10.75" fill="url(#h)"/>
<rect x="77.03" y="693.5" width="19.43" height="10.75" fill="none" stroke="#222" stroke-width="0.35"/>
<rect x="77.03" y="704.25" width="19.43" height="30" fill="none" stroke="#222" stroke-width="0.35"/>
<rect x="98.63" y="679" width="19.43" height="55.25" fill="#1ba0da"/>
<rect x="98.63" y="679" width="19.43" height="20.5" fill="url(#h)"/>
<rect x="98.63" y="679" width="19.43" height="20.5" fill="none" stroke="#222" stroke-width="0.35"/>
<rect x="98.63" y="699.5" width="19.43" height="34.75" fill="none" stroke="#222" stroke-width="0.35"/>
<rect x="52.2" y="676.5" width="69.1" height="60" fill="none" stroke="#4f5860" stroke-width="0.7"/>
<rect x="52.2" y="660.75" width="69.1" height="15.75" fill="#d9d9d9" stroke="#3d3d3d" stroke-width="0.7"/>
<text x="86.75" y="671.17" font-size="7.4" fill="#1f1f1f" text-anchor="middle" textLength="52.2" lengthAdjust="spacingAndGlyphs" stroke="#1f1f1f" stroke-width="0.12">Phosphorylation</text>
<line x1="65.16" x2="65.16" y1="736.5" y2="739.2" stroke="#333" stroke-width="0.75"/>
<text x="67.51" y="742.1" font-size="7" fill="#404040" text-anchor="end" textLength="36.2" lengthAdjust="spacingAndGlyphs" transform="rotate(-90 67.51 742.1)" stroke="#404040" stroke-width="0.18">Sequest HT</text>
<line x1="86.75" x2="86.75" y1="736.5" y2="739.2" stroke="#333" stroke-width="0.75"/>
<text x="89.1" y="742.1" font-size="7" fill="#404040" text-anchor="end" textLength="35.3" lengthAdjust="spacingAndGlyphs" transform="rotate(-90 89.1 742.1)" stroke="#404040" stroke-width="0.18">MSFragger</text>
<line x1="108.34" x2="108.34" y1="736.5" y2="739.2" stroke="#333" stroke-width="0.75"/>
<text x="110.69" y="742.1" font-size="7" fill="#404040" text-anchor="end" textLength="32.2" lengthAdjust="spacingAndGlyphs" transform="rotate(-90 110.69 742.1)" stroke="#404040" stroke-width="0.18">CHIMERYS</text>
<line x1="49.5" x2="52.2" y1="734.25" y2="734.25" stroke="#333" stroke-width="0.75"/>
<text x="48.1" y="736.7" font-size="7" fill="#404040" text-anchor="end" textLength="4.05" lengthAdjust="spacingAndGlyphs" stroke="#404040" stroke-width="0.18">0</text>
<line x1="49.5" x2="52.2" y1="715.25" y2="715.25" stroke="#333" stroke-width="0.75"/>
<text x="48.1" y="717.7" font-size="7" fill="#404040" text-anchor="end" textLength="8.9" lengthAdjust="spacingAndGlyphs" stroke="#404040" stroke-width="0.18">5K</text>
<line x1="49.5" x2="52.2" y1="696.25" y2="696.25" stroke="#333" stroke-width="0.75"/>
<text x="48.1" y="698.7" font-size="7" fill="#404040" text-anchor="end" textLength="12.95" lengthAdjust="spacingAndGlyphs" stroke="#404040" stroke-width="0.18">10K</text>
<line x1="49.5" x2="52.2" y1="677.25" y2="677.25" stroke="#333" stroke-width="0.75"/>
<text x="48.1" y="679.7" font-size="7" fill="#404040" text-anchor="end" textLength="12.95" lengthAdjust="spacingAndGlyphs" stroke="#404040" stroke-width="0.18">15K</text>
<rect x="142.44" y="706.5" width="19.46" height="27.75" fill="#ee7318"/>
<rect x="142.44" y="706.5" width="19.46" height="0.4" fill="url(#h)"/>
<rect x="142.44" y="706.5" width="19.46" height="0.4" fill="none" stroke="#222" stroke-width="0.35"/>
<rect x="142.44" y="706.9" width="19.46" height="27.35" fill="none" stroke="#222" stroke-width="0.35"/>
<rect x="164.07" y="683" width="19.46" height="51.25" fill="#5cbf22"/>
<rect x="164.07" y="683" width="19.46" height="0.8" fill="url(#h)"/>
<rect x="164.07" y="683" width="19.46" height="0.8" fill="none" stroke="#222" stroke-width="0.35"/>
<rect x="164.07" y="683.8" width="19.46" height="50.45" fill="none" stroke="#222" stroke-width="0.35"/>
<rect x="185.69" y="679" width="19.46" height="55.25" fill="#1ba0da"/>
<rect x="185.69" y="679" width="19.46" height="9.5" fill="url(#h)"/>
<rect x="185.69" y="679" width="19.46" height="9.5" fill="none" stroke="#222" stroke-width="0.35"/>
<rect x="185.69" y="688.5" width="19.46" height="45.75" fill="none" stroke="#222" stroke-width="0.35"/>
<rect x="139.2" y="676.5" width="69.2" height="60" fill="none" stroke="#4f5860" stroke-width="0.7"/>
<rect x="139.2" y="660.75" width="69.2" height="15.75" fill="#d9d9d9" stroke="#3d3d3d" stroke-width="0.7"/>
<text x="173.8" y="671.17" font-size="7.4" fill="#1f1f1f" text-anchor="middle" textLength="58" lengthAdjust="spacingAndGlyphs" stroke="#1f1f1f" stroke-width="0.12">Lysine Acetylation</text>
<line x1="152.17" x2="152.17" y1="736.5" y2="739.2" stroke="#333" stroke-width="0.75"/>
<text x="154.52" y="742.1" font-size="7" fill="#404040" text-anchor="end" textLength="36.2" lengthAdjust="spacingAndGlyphs" transform="rotate(-90 154.52 742.1)" stroke="#404040" stroke-width="0.18">Sequest HT</text>
<line x1="173.8" x2="173.8" y1="736.5" y2="739.2" stroke="#333" stroke-width="0.75"/>
<text x="176.15" y="742.1" font-size="7" fill="#404040" text-anchor="end" textLength="35.3" lengthAdjust="spacingAndGlyphs" transform="rotate(-90 176.15 742.1)" stroke="#404040" stroke-width="0.18">MSFragger</text>
<line x1="195.42" x2="195.42" y1="736.5" y2="739.2" stroke="#333" stroke-width="0.75"/>
<text x="197.77" y="742.1" font-size="7" fill="#404040" text-anchor="end" textLength="32.2" lengthAdjust="spacingAndGlyphs" transform="rotate(-90 197.77 742.1)" stroke="#404040" stroke-width="0.18">CHIMERYS</text>
<line x1="136.5" x2="139.2" y1="734.25" y2="734.25" stroke="#333" stroke-width="0.75"/>
<text x="135.1" y="736.7" font-size="7" fill="#404040" text-anchor="end" textLength="4.05" lengthAdjust="spacingAndGlyphs" stroke="#404040" stroke-width="0.18">0</text>
<line x1="136.5" x2="139.2" y1="723.5" y2="723.5" stroke="#333" stroke-width="0.75"/>
<text x="135.1" y="725.95" font-size="7" fill="#404040" text-anchor="end" textLength="8.9" lengthAdjust="spacingAndGlyphs" stroke="#404040" stroke-width="0.18">1K</text>
<line x1="136.5" x2="139.2" y1="712.75" y2="712.75" stroke="#333" stroke-width="0.75"/>
<text x="135.1" y="715.2" font-size="7" fill="#404040" text-anchor="end" textLength="8.9" lengthAdjust="spacingAndGlyphs" stroke="#404040" stroke-width="0.18">2K</text>
<line x1="136.5" x2="139.2" y1="702.25" y2="702.25" stroke="#333" stroke-width="0.75"/>
<text x="135.1" y="704.7" font-size="7" fill="#404040" text-anchor="end" textLength="8.9" lengthAdjust="spacingAndGlyphs" stroke="#404040" stroke-width="0.18">3K</text>
<line x1="136.5" x2="139.2" y1="691.5" y2="691.5" stroke="#333" stroke-width="0.75"/>
<text x="135.1" y="693.95" font-size="7" fill="#404040" text-anchor="end" textLength="8.9" lengthAdjust="spacingAndGlyphs" stroke="#404040" stroke-width="0.18">4K</text>
<line x1="136.5" x2="139.2" y1="681" y2="681" stroke="#333" stroke-width="0.75"/>
<text x="135.1" y="683.45" font-size="7" fill="#404040" text-anchor="end" textLength="8.9" lengthAdjust="spacingAndGlyphs" stroke="#404040" stroke-width="0.18">5K</text>
<rect x="238.83" y="704.25" width="19.41" height="30" fill="#ee7318"/>
<rect x="238.83" y="704.25" width="19.41" height="30" fill="url(#h)"/>
<rect x="238.83" y="704.25" width="19.41" height="30" fill="none" stroke="#222" stroke-width="0.35"/>
<rect x="260.4" y="696.25" width="19.41" height="38" fill="#5cbf22"/>
<rect x="260.4" y="696.25" width="19.41" height="0.75" fill="url(#h)"/>
<rect x="260.4" y="696.25" width="19.41" height="0.75" fill="none" stroke="#222" stroke-width="0.35"/>
<rect x="260.4" y="697" width="19.41" height="37.25" fill="none" stroke="#222" stroke-width="0.35"/>
<rect x="281.96" y="679" width="19.41" height="55.25" fill="#1ba0da"/>
<rect x="281.96" y="679" width="19.41" height="9" fill="url(#h)"/>
<rect x="281.96" y="679" width="19.41" height="9" fill="none" stroke="#222" stroke-width="0.35"/>
<rect x="281.96" y="688" width="19.41" height="46.25" fill="none" stroke="#222" stroke-width="0.35"/>
<rect x="235.6" y="676.5" width="69" height="60" fill="none" stroke="#4f5860" stroke-width="0.7"/>
<rect x="235.6" y="660.75" width="69" height="15.75" fill="#d9d9d9" stroke="#3d3d3d" stroke-width="0.7"/>
<text x="270.1" y="671.17" font-size="7.4" fill="#1f1f1f" text-anchor="middle" textLength="45" lengthAdjust="spacingAndGlyphs" stroke="#1f1f1f" stroke-width="0.12">Ubiquitination</text>
<line x1="248.54" x2="248.54" y1="736.5" y2="739.2" stroke="#333" stroke-width="0.75"/>
<text x="250.89" y="742.1" font-size="7" fill="#404040" text-anchor="end" textLength="36.2" lengthAdjust="spacingAndGlyphs" transform="rotate(-90 250.89 742.1)" stroke="#404040" stroke-width="0.18">Sequest HT</text>
<line x1="270.1" x2="270.1" y1="736.5" y2="739.2" stroke="#333" stroke-width="0.75"/>
<text x="272.45" y="742.1" font-size="7" fill="#404040" text-anchor="end" textLength="35.3" lengthAdjust="spacingAndGlyphs" transform="rotate(-90 272.45 742.1)" stroke="#404040" stroke-width="0.18">MSFragger</text>
<line x1="291.66" x2="291.66" y1="736.5" y2="739.2" stroke="#333" stroke-width="0.75"/>
<text x="294.01" y="742.1" font-size="7" fill="#404040" text-anchor="end" textLength="32.2" lengthAdjust="spacingAndGlyphs" transform="rotate(-90 294.01 742.1)" stroke="#404040" stroke-width="0.18">CHIMERYS</text>
<line x1="232.9" x2="235.6" y1="734.25" y2="734.25" stroke="#333" stroke-width="0.75"/>
<text x="231.5" y="736.7" font-size="7" fill="#404040" text-anchor="end" textLength="4.05" lengthAdjust="spacingAndGlyphs" stroke="#404040" stroke-width="0.18">0</text>
<line x1="232.9" x2="235.6" y1="720" y2="720" stroke="#333" stroke-width="0.75"/>
<text x="231.5" y="722.45" font-size="7" fill="#404040" text-anchor="end" textLength="14.98" lengthAdjust="spacingAndGlyphs" stroke="#404040" stroke-width="0.18">2.5K</text>
<line x1="232.9" x2="235.6" y1="705.75" y2="705.75" stroke="#333" stroke-width="0.75"/>
<text x="231.5" y="708.2" font-size="7" fill="#404040" text-anchor="end" textLength="14.98" lengthAdjust="spacingAndGlyphs" stroke="#404040" stroke-width="0.18">5.0K</text>
<line x1="232.9" x2="235.6" y1="691.5" y2="691.5" stroke="#333" stroke-width="0.75"/>
<text x="231.5" y="693.95" font-size="7" fill="#404040" text-anchor="end" textLength="14.98" lengthAdjust="spacingAndGlyphs" stroke="#404040" stroke-width="0.18">7.5K</text>
<line x1="232.9" x2="235.6" y1="677.25" y2="677.25" stroke="#333" stroke-width="0.75"/>
<text x="231.5" y="679.7" font-size="7" fill="#404040" text-anchor="end" textLength="19.02" lengthAdjust="spacingAndGlyphs" stroke="#404040" stroke-width="0.18">10.0K</text>
<text x="12.95" y="706.1" font-size="9.6" fill="#3a3a3a" text-anchor="middle" textLength="40.8" lengthAdjust="spacingAndGlyphs" transform="rotate(-90 12.95 706.1)">Precursors</text>
<text x="22.8" y="706.1" font-size="9.6" fill="#3a3a3a" text-anchor="middle" textLength="63" lengthAdjust="spacingAndGlyphs" transform="rotate(-90 22.8 706.1)">(datasetglobal)</text>
<text x="319.9" y="694.8" font-size="8.6" fill="#333" text-anchor="start" textLength="49.9" lengthAdjust="spacingAndGlyphs">Modification</text>
<rect x="319.1" y="701.6" width="12.5" height="12" fill="#fff"/>
<rect x="319.1" y="701.6" width="12.5" height="12" fill="url(#hk)"/>
<rect x="319.4" y="713.9" width="11.9" height="11.6" fill="#fff" stroke="#bbb" stroke-width="0.5"/>
<text x="335.9" y="710.1" font-size="7" fill="#2a2a2a" text-anchor="start" textLength="39.5" lengthAdjust="spacingAndGlyphs">Not localized</text>
<text x="335.9" y="721.8" font-size="7" fill="#2a2a2a" text-anchor="start" textLength="28.8" lengthAdjust="spacingAndGlyphs">Localized</text>
<path d="M454.03 734.25 L454.03 731.2 L454.04 728.14 L454.05 725.09 L454.07 722.03 L454.09 718.98 L454.11 715.92 L454.15 712.87 L454.24 709.81 L454.39 706.76 L454.58 703.7 L454.9 700.65 L454.94 700.33 L454.98 700 L455.03 699.68 L455.07 699.36 L455.12 699.03 L455.17 698.71 L455.23 698.39 L455.29 698.07 L455.36 697.74 L455.44 697.42 L455.53 697.1 L455.63 696.77 L455.73 696.45 L455.86 696.13 L456.01 695.8 L456.19 695.48 L456.39 695.16 L456.61 694.84 L456.85 694.51 L457.11 694.19 L457.38 693.87 L457.67 693.54 L457.99 693.22 L458.36 692.9 L458.75 692.57 L459.16 692.25 L459.58 691.93 L460.01 691.61 L460.44 691.28 L460.89 690.96 L461.36 690.64 L461.85 690.31 L462.35 689.99 L462.85 689.67 L463.34 689.34 L463.81 689.02 L464.24 688.7 L464.7 688.38 L465.17 688.05 L465.63 687.73 L466.08 687.41 L466.48 687.08 L466.81 686.76 L467.05 686.44 L467.2 686.11 L467.32 685.79 L467.43 685.47 L467.51 685.15 L467.56 684.82 L467.57 684.5 L467.47 684.18 L467.27 683.85 L466.99 683.53 L466.64 683.21 L466.27 682.88 L465.72 682.56 L464.94 682.24 L463.99 681.92 L462.94 681.59 L461.87 681.27 L460.69 680.95 L459.26 680.62 L457.74 680.3 L456.35 679.98 L455.26 679.65 L454.57 679.33 L453.98 679.01 L453.52 678.69 L453.27 678.36 L453.27 678.36 L453.02 678.69 L452.56 679.01 L451.98 679.33 L451.28 679.65 L450.19 679.98 L448.8 680.3 L447.29 680.62 L445.85 680.95 L444.67 681.27 L443.6 681.59 L442.55 681.92 L441.6 682.24 L440.82 682.56 L440.27 682.88 L439.9 683.21 L439.55 683.53 L439.27 683.85 L439.07 684.18 L438.97 684.5 L438.98 684.82 L439.03 685.15 L439.12 685.47 L439.22 685.79 L439.34 686.11 L439.49 686.44 L439.73 686.76 L440.07 687.08 L440.46 687.41 L440.91 687.73 L441.37 688.05 L441.84 688.38 L442.3 688.7 L442.73 689.02 L443.2 689.34 L443.69 689.67 L444.19 689.99 L444.69 690.31 L445.18 690.64 L445.66 690.96 L446.1 691.28 L446.53 691.61 L446.96 691.93 L447.38 692.25 L447.79 692.57 L448.18 692.9 L448.55 693.22 L448.88 693.54 L449.16 693.87 L449.43 694.19 L449.69 694.51 L449.93 694.84 L450.15 695.16 L450.36 695.48 L450.54 695.8 L450.69 696.13 L450.81 696.45 L450.91 696.77 L451.01 697.1 L451.1 697.42 L451.18 697.74 L451.25 698.07 L451.31 698.39 L451.37 698.71 L451.42 699.03 L451.47 699.36 L451.52 699.68 L451.56 700 L451.6 700.33 L451.65 700.65 L451.96 703.7 L452.16 706.76 L452.3 709.81 L452.39 712.87 L452.43 715.92 L452.46 718.98 L452.48 722.03 L452.49 725.09 L452.5 728.14 L452.51 731.2 L452.51 734.25Z" fill="#39444a"/>
<path d="M489.04 734.25 L489.04 731.2 L489.05 728.14 L489.06 725.09 L489.07 722.03 L489.09 718.98 L489.11 715.92 L489.14 712.87 L489.24 709.81 L489.39 706.76 L489.57 703.7 L489.87 700.65 L489.91 700.33 L489.95 700 L489.99 699.68 L490.04 699.36 L490.09 699.03 L490.14 698.71 L490.21 698.39 L490.28 698.07 L490.36 697.74 L490.46 697.42 L490.56 697.1 L490.68 696.77 L490.8 696.45 L490.93 696.13 L491.09 695.8 L491.29 695.48 L491.52 695.16 L491.77 694.84 L492.03 694.51 L492.31 694.19 L492.6 693.87 L492.91 693.54 L493.25 693.22 L493.61 692.9 L493.99 692.57 L494.38 692.25 L494.8 691.93 L495.22 691.61 L495.65 691.28 L496.11 690.96 L496.59 690.64 L497.1 690.31 L497.61 689.99 L498.14 689.67 L498.66 689.34 L499.18 689.02 L499.7 688.7 L500.25 688.38 L500.82 688.05 L501.39 687.73 L501.93 687.41 L502.42 687.08 L502.85 686.76 L503.21 686.44 L503.58 686.11 L503.93 685.79 L504.24 685.47 L504.47 685.15 L504.59 684.82 L504.56 684.5 L504.28 684.18 L503.81 683.85 L503.21 683.53 L502.56 683.21 L501.89 682.88 L501.04 682.56 L500.02 682.24 L498.89 681.92 L497.72 681.59 L496.56 681.27 L495.26 680.95 L493.83 680.62 L492.42 680.3 L491.18 679.98 L490.27 679.65 L489.6 679.33 L489.02 679.01 L488.57 678.69 L488.31 678.36 L488.31 678.36 L488.04 678.69 L487.59 679.01 L487.01 679.33 L486.34 679.65 L485.43 679.98 L484.19 680.3 L482.78 680.62 L481.35 680.95 L480.05 681.27 L478.89 681.59 L477.72 681.92 L476.59 682.24 L475.57 682.56 L474.72 682.88 L474.05 683.21 L473.4 683.53 L472.8 683.85 L472.33 684.18 L472.05 684.5 L472.02 684.82 L472.14 685.15 L472.37 685.47 L472.68 685.79 L473.03 686.11 L473.4 686.44 L473.76 686.76 L474.19 687.08 L474.68 687.41 L475.22 687.73 L475.79 688.05 L476.36 688.38 L476.91 688.7 L477.43 689.02 L477.95 689.34 L478.47 689.67 L479 689.99 L479.52 690.31 L480.02 690.64 L480.5 690.96 L480.96 691.28 L481.39 691.61 L481.81 691.93 L482.23 692.25 L482.62 692.57 L483.01 692.9 L483.37 693.22 L483.7 693.54 L484.01 693.87 L484.3 694.19 L484.58 694.51 L484.85 694.84 L485.1 695.16 L485.32 695.48 L485.52 695.8 L485.68 696.13 L485.81 696.45 L485.94 696.77 L486.05 697.1 L486.15 697.42 L486.25 697.74 L486.33 698.07 L486.41 698.39 L486.47 698.71 L486.52 699.03 L486.57 699.36 L486.62 699.68 L486.66 700 L486.7 700.33 L486.74 700.65 L487.04 703.7 L487.22 706.76 L487.37 709.81 L487.47 712.87 L487.5 715.92 L487.53 718.98 L487.54 722.03 L487.56 725.09 L487.56 728.14 L487.57 731.2 L487.57 734.25Z" fill="#39444a"/>
<path d="M524.11 734.25 L524.12 731.2 L524.12 728.14 L524.14 725.09 L524.15 722.03 L524.17 718.98 L524.2 715.92 L524.23 712.87 L524.33 709.81 L524.48 706.76 L524.68 703.7 L525 700.65 L525.04 700.33 L525.09 700 L525.13 699.68 L525.18 699.36 L525.23 699.03 L525.28 698.71 L525.34 698.39 L525.4 698.07 L525.48 697.74 L525.56 697.42 L525.65 697.1 L525.75 696.77 L525.85 696.45 L525.98 696.13 L526.13 695.8 L526.32 695.48 L526.52 695.16 L526.75 694.84 L527 694.51 L527.26 694.19 L527.53 693.87 L527.83 693.54 L528.16 693.22 L528.53 692.9 L528.93 692.57 L529.35 692.25 L529.79 691.93 L530.22 691.61 L530.66 691.28 L531.12 690.96 L531.6 690.64 L532.1 690.31 L532.61 689.99 L533.12 689.67 L533.62 689.34 L534.1 689.02 L534.54 688.7 L535.01 688.38 L535.49 688.05 L535.96 687.73 L536.42 687.41 L536.82 687.08 L537.16 686.76 L537.41 686.44 L537.56 686.11 L537.69 685.79 L537.79 685.47 L537.88 685.15 L537.93 684.82 L537.94 684.5 L537.84 684.18 L537.63 683.85 L537.34 683.53 L536.99 683.21 L536.61 682.88 L536.05 682.56 L535.25 682.24 L534.28 681.92 L533.22 681.59 L532.12 681.27 L530.92 680.95 L529.45 680.62 L527.91 680.3 L526.48 679.98 L525.38 679.65 L524.66 679.33 L524.06 679.01 L523.6 678.69 L523.34 678.36 L523.34 678.36 L523.08 678.69 L522.62 679.01 L522.02 679.33 L521.31 679.65 L520.2 679.98 L518.77 680.3 L517.23 680.62 L515.76 680.95 L514.56 681.27 L513.47 681.59 L512.4 681.92 L511.43 682.24 L510.63 682.56 L510.07 682.88 L509.69 683.21 L509.34 683.53 L509.05 683.85 L508.84 684.18 L508.74 684.5 L508.75 684.82 L508.8 685.15 L508.89 685.47 L509 685.79 L509.12 686.11 L509.27 686.44 L509.52 686.76 L509.86 687.08 L510.26 687.41 L510.72 687.73 L511.19 688.05 L511.67 688.38 L512.14 688.7 L512.58 689.02 L513.06 689.34 L513.56 689.67 L514.07 689.99 L514.58 690.31 L515.08 690.64 L515.56 690.96 L516.02 691.28 L516.46 691.61 L516.9 691.93 L517.33 692.25 L517.75 692.57 L518.15 692.9 L518.52 693.22 L518.85 693.54 L519.15 693.87 L519.42 694.19 L519.68 694.51 L519.93 694.84 L520.16 695.16 L520.36 695.48 L520.55 695.8 L520.7 696.13 L520.83 696.45 L520.93 696.77 L521.03 697.1 L521.12 697.42 L521.2 697.74 L521.28 698.07 L521.34 698.39 L521.4 698.71 L521.45 699.03 L521.5 699.36 L521.55 699.68 L521.6 700 L521.64 700.33 L521.68 700.65 L522 703.7 L522.2 706.76 L522.35 709.81 L522.45 712.87 L522.48 715.92 L522.51 718.98 L522.53 722.03 L522.55 725.09 L522.56 728.14 L522.56 731.2 L522.57 734.25Z" fill="#39444a"/>
<path d="M559.11 734.25 L559.11 731.2 L559.12 728.14 L559.13 725.09 L559.14 722.03 L559.16 718.98 L559.19 715.92 L559.22 712.87 L559.31 709.81 L559.45 706.76 L559.64 703.7 L559.94 700.65 L559.98 700.33 L560.02 700 L560.07 699.68 L560.11 699.36 L560.16 699.03 L560.21 698.71 L560.26 698.39 L560.33 698.07 L560.39 697.74 L560.47 697.42 L560.56 697.1 L560.65 696.77 L560.75 696.45 L560.87 696.13 L561.01 695.8 L561.19 695.48 L561.38 695.16 L561.6 694.84 L561.83 694.51 L562.08 694.19 L562.34 693.87 L562.62 693.54 L562.93 693.22 L563.28 692.9 L563.66 692.57 L564.06 692.25 L564.47 691.93 L564.88 691.61 L565.29 691.28 L565.72 690.96 L566.18 690.64 L566.66 690.31 L567.14 689.99 L567.62 689.67 L568.09 689.34 L568.54 689.02 L568.97 688.7 L569.4 688.38 L569.86 688.05 L570.31 687.73 L570.73 687.41 L571.12 687.08 L571.44 686.76 L571.67 686.44 L571.82 686.11 L571.93 685.79 L572.04 685.47 L572.11 685.15 L572.16 684.82 L572.17 684.5 L572.08 684.18 L571.89 683.85 L571.61 683.53 L571.28 683.21 L570.92 682.88 L570.39 682.56 L569.64 682.24 L568.72 681.92 L567.71 681.59 L566.68 681.27 L565.54 680.95 L564.15 680.62 L562.69 680.3 L561.34 679.98 L560.3 679.65 L559.62 679.33 L559.06 679.01 L558.62 678.69 L558.38 678.36 L558.38 678.36 L558.13 678.69 L557.69 679.01 L557.13 679.33 L556.45 679.65 L555.41 679.98 L554.06 680.3 L552.6 680.62 L551.21 680.95 L550.07 681.27 L549.04 681.59 L548.03 681.92 L547.11 682.24 L546.36 682.56 L545.83 682.88 L545.47 683.21 L545.14 683.53 L544.86 683.85 L544.67 684.18 L544.58 684.5 L544.59 684.82 L544.64 685.15 L544.71 685.47 L544.82 685.79 L544.93 686.11 L545.08 686.44 L545.31 686.76 L545.63 687.08 L546.02 687.41 L546.44 687.73 L546.89 688.05 L547.35 688.38 L547.78 688.7 L548.21 689.02 L548.66 689.34 L549.13 689.67 L549.61 689.99 L550.09 690.31 L550.57 690.64 L551.03 690.96 L551.46 691.28 L551.87 691.61 L552.28 691.93 L552.69 692.25 L553.09 692.57 L553.47 692.9 L553.82 693.22 L554.13 693.54 L554.41 693.87 L554.67 694.19 L554.92 694.51 L555.15 694.84 L555.37 695.16 L555.56 695.48 L555.74 695.8 L555.88 696.13 L556 696.45 L556.1 696.77 L556.19 697.1 L556.28 697.42 L556.36 697.74 L556.42 698.07 L556.49 698.39 L556.54 698.71 L556.59 699.03 L556.64 699.36 L556.68 699.68 L556.73 700 L556.77 700.33 L556.81 700.65 L557.11 703.7 L557.3 706.76 L557.44 709.81 L557.53 712.87 L557.56 715.92 L557.59 718.98 L557.61 722.03 L557.62 725.09 L557.63 728.14 L557.64 731.2 L557.64 734.25Z" fill="#39444a"/>
<path d="M594.08 734.25 L594.08 731.2 L594.08 728.14 L594.09 725.09 L594.1 722.03 L594.12 718.98 L594.14 715.92 L594.17 712.87 L594.25 709.81 L594.39 706.76 L594.56 703.7 L594.83 700.65 L594.86 700.33 L594.9 700 L594.94 699.68 L594.98 699.36 L595.03 699.03 L595.08 698.71 L595.14 698.39 L595.2 698.07 L595.28 697.74 L595.36 697.42 L595.46 697.1 L595.56 696.77 L595.67 696.45 L595.79 696.13 L595.94 695.8 L596.12 695.48 L596.32 695.16 L596.55 694.84 L596.79 694.51 L597.05 694.19 L597.31 693.87 L597.59 693.54 L597.9 693.22 L598.22 692.9 L598.57 692.57 L598.93 692.25 L599.3 691.93 L599.69 691.61 L600.08 691.28 L600.49 690.96 L600.93 690.64 L601.39 690.31 L601.86 689.99 L602.34 689.67 L602.81 689.34 L603.28 689.02 L603.76 688.7 L604.26 688.38 L604.78 688.05 L605.29 687.73 L605.78 687.41 L606.23 687.08 L606.62 686.76 L606.94 686.44 L607.28 686.11 L607.6 685.79 L607.88 685.47 L608.09 685.15 L608.2 684.82 L608.17 684.5 L607.91 684.18 L607.49 683.85 L606.95 683.53 L606.35 683.21 L605.74 682.88 L604.97 682.56 L604.05 682.24 L603.02 681.92 L601.96 681.59 L600.91 681.27 L599.72 680.95 L598.42 680.62 L597.14 680.3 L596.02 679.98 L595.19 679.65 L594.59 679.33 L594.06 679.01 L593.65 678.69 L593.41 678.36 L593.41 678.36 L593.17 678.69 L592.76 679.01 L592.23 679.33 L591.63 679.65 L590.8 679.98 L589.68 680.3 L588.4 680.62 L587.1 680.95 L585.91 681.27 L584.86 681.59 L583.8 681.92 L582.77 682.24 L581.85 682.56 L581.08 682.88 L580.47 683.21 L579.87 683.53 L579.33 683.85 L578.91 684.18 L578.65 684.5 L578.62 684.82 L578.73 685.15 L578.94 685.47 L579.22 685.79 L579.54 686.11 L579.87 686.44 L580.2 686.76 L580.59 687.08 L581.04 687.41 L581.53 687.73 L582.04 688.05 L582.56 688.38 L583.06 688.7 L583.53 689.02 L584.01 689.34 L584.48 689.67 L584.96 689.99 L585.43 690.31 L585.89 690.64 L586.33 690.96 L586.74 691.28 L587.13 691.61 L587.52 691.93 L587.89 692.25 L588.25 692.57 L588.6 692.9 L588.92 693.22 L589.23 693.54 L589.51 693.87 L589.77 694.19 L590.03 694.51 L590.27 694.84 L590.5 695.16 L590.7 695.48 L590.88 695.8 L591.03 696.13 L591.15 696.45 L591.26 696.77 L591.36 697.1 L591.46 697.42 L591.54 697.74 L591.62 698.07 L591.68 698.39 L591.74 698.71 L591.79 699.03 L591.84 699.36 L591.88 699.68 L591.92 700 L591.96 700.33 L591.99 700.65 L592.26 703.7 L592.43 706.76 L592.56 709.81 L592.65 712.87 L592.68 715.92 L592.7 718.98 L592.72 722.03 L592.73 725.09 L592.74 728.14 L592.74 731.2 L592.74 734.25Z" fill="#39444a"/>
<path d="M629.22 734.25 L629.23 731.2 L629.24 728.14 L629.26 725.09 L629.28 722.03 L629.31 718.98 L629.36 715.92 L629.46 712.87 L629.62 709.81 L629.86 706.76 L630.29 703.7 L631.05 700.65 L631.16 700.33 L631.27 700 L631.39 699.68 L631.51 699.36 L631.64 699.03 L631.79 698.71 L631.94 698.39 L632.11 698.07 L632.28 697.74 L632.46 697.42 L632.65 697.1 L632.85 696.77 L633.04 696.45 L633.24 696.13 L633.46 695.8 L633.68 695.48 L633.92 695.16 L634.16 694.84 L634.42 694.51 L634.67 694.19 L634.93 693.87 L635.19 693.54 L635.45 693.22 L635.71 692.9 L635.99 692.57 L636.27 692.25 L636.55 691.93 L636.83 691.61 L637.1 691.28 L637.36 690.96 L637.61 690.64 L637.85 690.31 L638.09 689.99 L638.32 689.67 L638.55 689.34 L638.76 689.02 L638.94 688.7 L639.08 688.38 L639.2 688.05 L639.32 687.73 L639.42 687.41 L639.5 687.08 L639.54 686.76 L639.53 686.44 L639.49 686.11 L639.4 685.79 L639.28 685.47 L639.14 685.15 L638.99 684.82 L638.82 684.5 L638.62 684.18 L638.33 683.85 L637.98 683.53 L637.57 683.21 L637.11 682.88 L636.61 682.56 L636.1 682.24 L635.54 681.92 L634.87 681.59 L634.14 681.27 L633.37 680.95 L632.62 680.62 L631.91 680.3 L631.15 679.98 L630.41 679.65 L629.74 679.33 L629.21 679.01 L628.78 678.69 L628.44 678.36 L628.44 678.36 L628.11 678.69 L627.68 679.01 L627.15 679.33 L626.48 679.65 L625.74 679.98 L624.98 680.3 L624.27 680.62 L623.52 680.95 L622.75 681.27 L622.01 681.59 L621.35 681.92 L620.79 682.24 L620.28 682.56 L619.78 682.88 L619.32 683.21 L618.91 683.53 L618.55 683.85 L618.27 684.18 L618.07 684.5 L617.9 684.82 L617.75 685.15 L617.61 685.47 L617.49 685.79 L617.4 686.11 L617.35 686.44 L617.35 686.76 L617.39 687.08 L617.46 687.41 L617.57 687.73 L617.69 688.05 L617.81 688.38 L617.95 688.7 L618.13 689.02 L618.34 689.34 L618.56 689.67 L618.8 689.99 L619.04 690.31 L619.28 690.64 L619.53 690.96 L619.79 691.28 L620.06 691.61 L620.34 691.93 L620.62 692.25 L620.9 692.57 L621.18 692.9 L621.44 693.22 L621.7 693.54 L621.96 693.87 L622.22 694.19 L622.47 694.51 L622.73 694.84 L622.97 695.16 L623.21 695.48 L623.43 695.8 L623.64 696.13 L623.85 696.45 L624.04 696.77 L624.24 697.1 L624.43 697.42 L624.61 697.74 L624.78 698.07 L624.95 698.39 L625.1 698.71 L625.25 699.03 L625.38 699.36 L625.5 699.68 L625.62 700 L625.73 700.33 L625.84 700.65 L626.6 703.7 L627.03 706.76 L627.27 709.81 L627.43 712.87 L627.53 715.92 L627.57 718.98 L627.61 722.03 L627.63 725.09 L627.65 728.14 L627.66 731.2 L627.67 734.25Z" fill="#39444a"/>
<path d="M664.15 716.89 L664.15 715.41 L664.15 713.94 L664.16 712.46 L664.17 710.98 L664.18 709.51 L664.2 708.03 L664.22 706.56 L664.25 705.08 L664.31 703.6 L664.4 702.13 L664.52 700.65 L664.54 700.35 L664.58 700.05 L664.62 699.75 L664.67 699.45 L664.73 699.15 L664.79 698.85 L664.85 698.55 L664.92 698.25 L665 697.95 L665.08 697.65 L665.17 697.35 L665.26 697.05 L665.36 696.75 L665.46 696.45 L665.56 696.15 L665.68 695.85 L665.82 695.55 L665.98 695.24 L666.16 694.94 L666.35 694.64 L666.56 694.34 L666.78 694.04 L667.02 693.74 L667.27 693.44 L667.53 693.14 L667.83 692.84 L668.15 692.54 L668.51 692.24 L668.89 691.94 L669.29 691.64 L669.72 691.34 L670.16 691.04 L670.62 690.74 L671.09 690.44 L671.64 690.14 L672.24 689.84 L672.88 689.54 L673.54 689.24 L674.17 688.94 L674.77 688.64 L675.31 688.34 L675.81 688.04 L676.31 687.74 L676.79 687.44 L677.21 687.14 L677.54 686.84 L677.76 686.54 L677.94 686.24 L678.1 685.94 L678.22 685.64 L678.28 685.34 L678.25 685.03 L678.15 684.73 L677.96 684.43 L677.71 684.13 L677.42 683.83 L677.08 683.53 L676.73 683.23 L676.22 682.93 L675.54 682.63 L674.71 682.33 L673.78 682.03 L672.77 681.73 L671.71 681.43 L670.44 681.13 L668.99 680.83 L667.4 680.53 L665.58 680.23 L663.48 679.93 L663.48 679.93 L661.37 680.23 L659.55 680.53 L657.96 680.83 L656.52 681.13 L655.25 681.43 L654.18 681.73 L653.18 682.03 L652.25 682.33 L651.42 682.63 L650.73 682.93 L650.23 683.23 L649.87 683.53 L649.54 683.83 L649.25 684.13 L649 684.43 L648.81 684.73 L648.7 685.03 L648.68 685.34 L648.74 685.64 L648.86 685.94 L649.02 686.24 L649.2 686.54 L649.42 686.84 L649.75 687.14 L650.17 687.44 L650.64 687.74 L651.15 688.04 L651.65 688.34 L652.19 688.64 L652.78 688.94 L653.42 689.24 L654.07 689.54 L654.72 689.84 L655.32 690.14 L655.87 690.44 L656.34 690.74 L656.8 691.04 L657.24 691.34 L657.66 691.64 L658.07 691.94 L658.45 692.24 L658.8 692.54 L659.13 692.84 L659.43 693.14 L659.69 693.44 L659.94 693.74 L660.18 694.04 L660.4 694.34 L660.61 694.64 L660.8 694.94 L660.98 695.24 L661.14 695.55 L661.28 695.85 L661.4 696.15 L661.5 696.45 L661.6 696.75 L661.7 697.05 L661.79 697.35 L661.88 697.65 L661.96 697.95 L662.03 698.25 L662.1 698.55 L662.17 698.85 L662.23 699.15 L662.29 699.45 L662.33 699.75 L662.38 700.05 L662.41 700.35 L662.44 700.65 L662.56 702.13 L662.65 703.6 L662.71 705.08 L662.74 706.56 L662.76 708.03 L662.78 709.51 L662.79 710.98 L662.8 712.46 L662.81 713.94 L662.81 715.41 L662.81 716.89Z" fill="#39444a"/>
<rect x="432.25" y="676.5" width="252.25" height="60" fill="none" stroke="#4f5860" stroke-width="0.7"/>
<line x1="429.55" x2="432.25" y1="734.25" y2="734.25" stroke="#333" stroke-width="0.75"/>
<text x="428.15" y="736.7" font-size="7" fill="#404040" text-anchor="end" textLength="14.17" lengthAdjust="spacingAndGlyphs" stroke="#404040" stroke-width="0.18">0.00</text>
<line x1="429.55" x2="432.25" y1="720.25" y2="720.25" stroke="#333" stroke-width="0.75"/>
<text x="428.15" y="722.7" font-size="7" fill="#404040" text-anchor="end" textLength="14.17" lengthAdjust="spacingAndGlyphs" stroke="#404040" stroke-width="0.18">0.25</text>
<line x1="429.55" x2="432.25" y1="706.25" y2="706.25" stroke="#333" stroke-width="0.75"/>
<text x="428.15" y="708.7" font-size="7" fill="#404040" text-anchor="end" textLength="14.17" lengthAdjust="spacingAndGlyphs" stroke="#404040" stroke-width="0.18">0.50</text>
<line x1="429.55" x2="432.25" y1="692.25" y2="692.25" stroke="#333" stroke-width="0.75"/>
<text x="428.15" y="694.7" font-size="7" fill="#404040" text-anchor="end" textLength="14.17" lengthAdjust="spacingAndGlyphs" stroke="#404040" stroke-width="0.18">0.75</text>
<line x1="429.55" x2="432.25" y1="678.25" y2="678.25" stroke="#333" stroke-width="0.75"/>
<text x="428.15" y="680.7" font-size="7" fill="#404040" text-anchor="end" textLength="14.17" lengthAdjust="spacingAndGlyphs" stroke="#404040" stroke-width="0.18">1.00</text>
<text x="403.8" y="706.5" font-size="9.6" fill="#3a3a3a" text-anchor="middle" textLength="59" lengthAdjust="spacingAndGlyphs" transform="rotate(-90 403.8 706.5)">Spectral angle</text>
<line x1="453.27" x2="453.27" y1="736.5" y2="739.2" stroke="#333" stroke-width="0.75"/>
<text x="455.62" y="742.1" font-size="7" fill="#404040" text-anchor="end" textLength="38" lengthAdjust="spacingAndGlyphs" transform="rotate(-90 455.62 742.1)" stroke="#404040" stroke-width="0.18">Unmodified</text>
<line x1="488.31" x2="488.31" y1="736.5" y2="739.2" stroke="#333" stroke-width="0.75"/>
<text x="490.66" y="742.1" font-size="7" fill="#404040" text-anchor="end" textLength="53" lengthAdjust="spacingAndGlyphs" transform="rotate(-90 490.66 742.1)" stroke="#404040" stroke-width="0.18">Phosphorylation</text>
<line x1="523.34" x2="523.34" y1="736.5" y2="739.2" stroke="#333" stroke-width="0.75"/>
<text x="521.59" y="742.1" font-size="7" fill="#404040" text-anchor="end" textLength="34.4" lengthAdjust="spacingAndGlyphs" transform="rotate(-90 521.59 742.1)" stroke="#404040" stroke-width="0.18">Methionine</text>
<text x="530.09" y="742.1" font-size="7" fill="#404040" text-anchor="end" textLength="29.6" lengthAdjust="spacingAndGlyphs" transform="rotate(-90 530.09 742.1)" stroke="#404040" stroke-width="0.18">Oxidation</text>
<line x1="558.38" x2="558.38" y1="736.5" y2="739.2" stroke="#333" stroke-width="0.75"/>
<text x="556.62" y="742.1" font-size="7" fill="#404040" text-anchor="end" textLength="20.1" lengthAdjust="spacingAndGlyphs" transform="rotate(-90 556.62 742.1)" stroke="#404040" stroke-width="0.18">Lysine</text>
<text x="565.12" y="742.1" font-size="7" fill="#404040" text-anchor="end" textLength="34.4" lengthAdjust="spacingAndGlyphs" transform="rotate(-90 565.12 742.1)" stroke="#404040" stroke-width="0.18">Acetylation</text>
<line x1="593.41" x2="593.41" y1="736.5" y2="739.2" stroke="#333" stroke-width="0.75"/>
<text x="595.76" y="742.1" font-size="7" fill="#404040" text-anchor="end" textLength="44.4" lengthAdjust="spacingAndGlyphs" transform="rotate(-90 595.76 742.1)" stroke="#404040" stroke-width="0.18">Ubiquitination</text>
<line x1="628.44" x2="628.44" y1="736.5" y2="739.2" stroke="#333" stroke-width="0.75"/>
<text x="626.69" y="742.1" font-size="7" fill="#404040" text-anchor="end" textLength="38" lengthAdjust="spacingAndGlyphs" transform="rotate(-90 626.69 742.1)" stroke="#404040" stroke-width="0.18">Unmodified</text>
<text x="635.19" y="742.1" font-size="7" fill="#404040" text-anchor="end" textLength="26.4" lengthAdjust="spacingAndGlyphs" transform="rotate(-90 635.19 742.1)" stroke="#404040" stroke-width="0.18">Cysteine</text>
<line x1="663.48" x2="663.48" y1="736.5" y2="739.2" stroke="#333" stroke-width="0.75"/>
<text x="661.73" y="742.1" font-size="7" fill="#404040" text-anchor="end" textLength="35.9" lengthAdjust="spacingAndGlyphs" transform="rotate(-90 661.73 742.1)" stroke="#404040" stroke-width="0.18">PreOmics™</text>
<text x="670.23" y="742.1" font-size="7" fill="#404040" text-anchor="end" textLength="26.4" lengthAdjust="spacingAndGlyphs" transform="rotate(-90 670.23 742.1)" stroke="#404040" stroke-width="0.18">iST-NHS</text>
</svg>
</body></html>
